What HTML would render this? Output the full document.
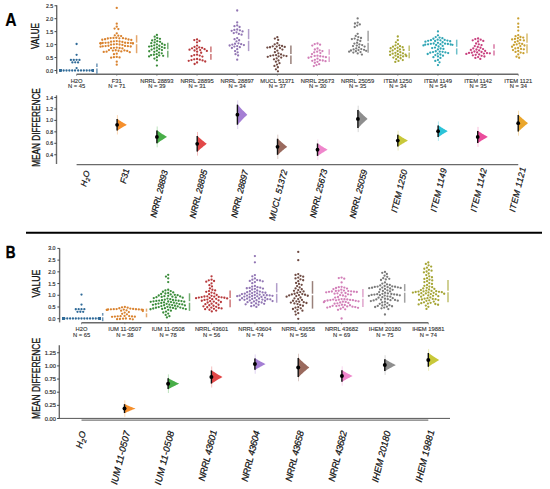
<!DOCTYPE html>
<html><head><meta charset="utf-8"><style>
html,body{margin:0;padding:0;background:#fff;}
body{width:550px;height:489px;overflow:hidden;}
svg{display:block;font-family:"Liberation Sans",sans-serif;}
</style></head><body>
<svg width="550" height="489" viewBox="0 0 550 489">
<rect width="550" height="489" fill="#fff"/>
<text x="11" y="26.2" font-size="17.5" text-anchor="middle" font-weight="bold" font-style="normal" fill="#000" textLength="11.3" lengthAdjust="spacingAndGlyphs" stroke="#000" stroke-width="0.2">A</text>
<text x="39.2" y="36" font-size="10" text-anchor="middle" font-weight="normal" font-style="normal" fill="#111" transform="rotate(-90 39.2 36)" textLength="26" lengthAdjust="spacingAndGlyphs" stroke="#111" stroke-width="0.3">VALUE</text>
<line x1="56.7" y1="5.3" x2="56.7" y2="73.8" stroke="#6a6a6a" stroke-width="1.4"/>
<line x1="54.5" y1="70.5" x2="56.7" y2="70.5" stroke="#444" stroke-width="1.0"/>
<text x="53.3" y="72.5" font-size="5.9" text-anchor="end" font-weight="normal" font-style="normal" fill="#333" textLength="7.3" lengthAdjust="spacingAndGlyphs" stroke="#333" stroke-width="0.2">0.0</text>
<line x1="54.5" y1="57.55" x2="56.7" y2="57.55" stroke="#444" stroke-width="1.0"/>
<text x="53.3" y="59.55" font-size="5.9" text-anchor="end" font-weight="normal" font-style="normal" fill="#333" textLength="7.3" lengthAdjust="spacingAndGlyphs" stroke="#333" stroke-width="0.2">0.5</text>
<line x1="54.5" y1="44.6" x2="56.7" y2="44.6" stroke="#444" stroke-width="1.0"/>
<text x="53.3" y="46.6" font-size="5.9" text-anchor="end" font-weight="normal" font-style="normal" fill="#333" textLength="7.3" lengthAdjust="spacingAndGlyphs" stroke="#333" stroke-width="0.2">1.0</text>
<line x1="54.5" y1="31.650000000000006" x2="56.7" y2="31.650000000000006" stroke="#444" stroke-width="1.0"/>
<text x="53.3" y="33.650000000000006" font-size="5.9" text-anchor="end" font-weight="normal" font-style="normal" fill="#333" textLength="7.3" lengthAdjust="spacingAndGlyphs" stroke="#333" stroke-width="0.2">1.5</text>
<line x1="54.5" y1="18.700000000000003" x2="56.7" y2="18.700000000000003" stroke="#444" stroke-width="1.0"/>
<text x="53.3" y="20.700000000000003" font-size="5.9" text-anchor="end" font-weight="normal" font-style="normal" fill="#333" textLength="7.3" lengthAdjust="spacingAndGlyphs" stroke="#333" stroke-width="0.2">2.0</text>
<line x1="54.5" y1="5.75" x2="56.7" y2="5.75" stroke="#444" stroke-width="1.0"/>
<text x="53.3" y="7.75" font-size="5.9" text-anchor="end" font-weight="normal" font-style="normal" fill="#333" textLength="7.3" lengthAdjust="spacingAndGlyphs" stroke="#333" stroke-width="0.2">2.5</text>
<line x1="76.6" y1="74.2" x2="518.25" y2="74.2" stroke="#6a6a6a" stroke-width="1.4"/>
<line x1="76.6" y1="74.2" x2="76.6" y2="75.8" stroke="#6a6a6a" stroke-width="0.7"/>
<line x1="116.75" y1="74.2" x2="116.75" y2="75.8" stroke="#6a6a6a" stroke-width="0.7"/>
<line x1="156.89999999999998" y1="74.2" x2="156.89999999999998" y2="75.8" stroke="#6a6a6a" stroke-width="0.7"/>
<line x1="197.04999999999998" y1="74.2" x2="197.04999999999998" y2="75.8" stroke="#6a6a6a" stroke-width="0.7"/>
<line x1="237.2" y1="74.2" x2="237.2" y2="75.8" stroke="#6a6a6a" stroke-width="0.7"/>
<line x1="277.35" y1="74.2" x2="277.35" y2="75.8" stroke="#6a6a6a" stroke-width="0.7"/>
<line x1="317.5" y1="74.2" x2="317.5" y2="75.8" stroke="#6a6a6a" stroke-width="0.7"/>
<line x1="357.65" y1="74.2" x2="357.65" y2="75.8" stroke="#6a6a6a" stroke-width="0.7"/>
<line x1="397.79999999999995" y1="74.2" x2="397.79999999999995" y2="75.8" stroke="#6a6a6a" stroke-width="0.7"/>
<line x1="437.94999999999993" y1="74.2" x2="437.94999999999993" y2="75.8" stroke="#6a6a6a" stroke-width="0.7"/>
<line x1="478.1" y1="74.2" x2="478.1" y2="75.8" stroke="#6a6a6a" stroke-width="0.7"/>
<line x1="518.25" y1="74.2" x2="518.25" y2="75.8" stroke="#6a6a6a" stroke-width="0.7"/>
<text x="76.6" y="82.5" font-size="5.8" text-anchor="middle" font-weight="normal" font-style="normal" fill="#333" stroke="#333" stroke-width="0.12">H2O</text>
<text x="76.6" y="88.0" font-size="5.8" text-anchor="middle" font-weight="normal" font-style="normal" fill="#333" stroke="#333" stroke-width="0.12">N = 45</text>
<text x="116.75" y="82.5" font-size="5.8" text-anchor="middle" font-weight="normal" font-style="normal" fill="#333" stroke="#333" stroke-width="0.12">F31</text>
<text x="116.75" y="88.0" font-size="5.8" text-anchor="middle" font-weight="normal" font-style="normal" fill="#333" stroke="#333" stroke-width="0.12">N = 71</text>
<text x="156.89999999999998" y="82.5" font-size="5.8" text-anchor="middle" font-weight="normal" font-style="normal" fill="#333" stroke="#333" stroke-width="0.12">NRRL 28893</text>
<text x="156.89999999999998" y="88.0" font-size="5.8" text-anchor="middle" font-weight="normal" font-style="normal" fill="#333" stroke="#333" stroke-width="0.12">N = 39</text>
<text x="197.04999999999998" y="82.5" font-size="5.8" text-anchor="middle" font-weight="normal" font-style="normal" fill="#333" stroke="#333" stroke-width="0.12">NRRL 28895</text>
<text x="197.04999999999998" y="88.0" font-size="5.8" text-anchor="middle" font-weight="normal" font-style="normal" fill="#333" stroke="#333" stroke-width="0.12">N = 31</text>
<text x="237.2" y="82.5" font-size="5.8" text-anchor="middle" font-weight="normal" font-style="normal" fill="#333" stroke="#333" stroke-width="0.12">NRRL 28897</text>
<text x="237.2" y="88.0" font-size="5.8" text-anchor="middle" font-weight="normal" font-style="normal" fill="#333" stroke="#333" stroke-width="0.12">N = 34</text>
<text x="277.35" y="82.5" font-size="5.8" text-anchor="middle" font-weight="normal" font-style="normal" fill="#333" stroke="#333" stroke-width="0.12">MUCL 51371</text>
<text x="277.35" y="88.0" font-size="5.8" text-anchor="middle" font-weight="normal" font-style="normal" fill="#333" stroke="#333" stroke-width="0.12">N = 37</text>
<text x="317.5" y="82.5" font-size="5.8" text-anchor="middle" font-weight="normal" font-style="normal" fill="#333" stroke="#333" stroke-width="0.12">NRRL 25673</text>
<text x="317.5" y="88.0" font-size="5.8" text-anchor="middle" font-weight="normal" font-style="normal" fill="#333" stroke="#333" stroke-width="0.12">N = 30</text>
<text x="357.65" y="82.5" font-size="5.8" text-anchor="middle" font-weight="normal" font-style="normal" fill="#333" stroke="#333" stroke-width="0.12">NRRL 25059</text>
<text x="357.65" y="88.0" font-size="5.8" text-anchor="middle" font-weight="normal" font-style="normal" fill="#333" stroke="#333" stroke-width="0.12">N = 35</text>
<text x="397.79999999999995" y="82.5" font-size="5.8" text-anchor="middle" font-weight="normal" font-style="normal" fill="#333" stroke="#333" stroke-width="0.12">ITEM 1250</text>
<text x="397.79999999999995" y="88.0" font-size="5.8" text-anchor="middle" font-weight="normal" font-style="normal" fill="#333" stroke="#333" stroke-width="0.12">N = 34</text>
<text x="437.94999999999993" y="82.5" font-size="5.8" text-anchor="middle" font-weight="normal" font-style="normal" fill="#333" stroke="#333" stroke-width="0.12">ITEM 1149</text>
<text x="437.94999999999993" y="88.0" font-size="5.8" text-anchor="middle" font-weight="normal" font-style="normal" fill="#333" stroke="#333" stroke-width="0.12">N = 54</text>
<text x="478.1" y="82.5" font-size="5.8" text-anchor="middle" font-weight="normal" font-style="normal" fill="#333" stroke="#333" stroke-width="0.12">ITEM 1142</text>
<text x="478.1" y="88.0" font-size="5.8" text-anchor="middle" font-weight="normal" font-style="normal" fill="#333" stroke="#333" stroke-width="0.12">N = 35</text>
<text x="518.25" y="82.5" font-size="5.8" text-anchor="middle" font-weight="normal" font-style="normal" fill="#333" stroke="#333" stroke-width="0.12">ITEM 1121</text>
<text x="518.25" y="88.0" font-size="5.8" text-anchor="middle" font-weight="normal" font-style="normal" fill="#333" stroke="#333" stroke-width="0.12">N = 34</text>
<circle cx="76.60" cy="44.00" r="1.15" fill="#2f6a98"/>
<circle cx="76.60" cy="54.80" r="1.15" fill="#2f6a98"/>
<circle cx="76.60" cy="59.86" r="1.15" fill="#2f6a98"/>
<circle cx="73.75" cy="59.89" r="1.15" fill="#2f6a98"/>
<circle cx="79.45" cy="59.91" r="1.15" fill="#2f6a98"/>
<circle cx="70.90" cy="59.94" r="1.15" fill="#2f6a98"/>
<circle cx="75.24" cy="62.37" r="1.15" fill="#2f6a98"/>
<circle cx="72.39" cy="62.40" r="1.15" fill="#2f6a98"/>
<circle cx="78.09" cy="62.43" r="1.15" fill="#2f6a98"/>
<circle cx="76.60" cy="68.10" r="1.15" fill="#2f6a98"/>
<circle cx="75.05" cy="70.49" r="1.15" fill="#2f6a98"/>
<circle cx="78.15" cy="70.49" r="1.15" fill="#2f6a98"/>
<circle cx="81.00" cy="70.49" r="1.15" fill="#2f6a98"/>
<circle cx="72.20" cy="70.49" r="1.15" fill="#2f6a98"/>
<circle cx="83.85" cy="70.49" r="1.15" fill="#2f6a98"/>
<circle cx="69.35" cy="70.49" r="1.15" fill="#2f6a98"/>
<circle cx="86.70" cy="70.49" r="1.15" fill="#2f6a98"/>
<circle cx="66.50" cy="70.49" r="1.15" fill="#2f6a98"/>
<circle cx="89.55" cy="70.49" r="1.15" fill="#2f6a98"/>
<circle cx="63.65" cy="70.50" r="1.15" fill="#2f6a98"/>
<circle cx="92.40" cy="70.50" r="1.15" fill="#2f6a98"/>
<circle cx="60.80" cy="70.50" r="1.15" fill="#2f6a98"/>
<circle cx="92.80" cy="70.50" r="1.15" fill="#2f6a98"/>
<circle cx="60.40" cy="70.50" r="1.15" fill="#2f6a98"/>
<circle cx="92.80" cy="70.50" r="1.15" fill="#2f6a98"/>
<circle cx="60.40" cy="70.50" r="1.15" fill="#2f6a98"/>
<circle cx="92.80" cy="70.50" r="1.15" fill="#2f6a98"/>
<circle cx="60.40" cy="70.50" r="1.15" fill="#2f6a98"/>
<circle cx="92.80" cy="70.50" r="1.15" fill="#2f6a98"/>
<circle cx="60.40" cy="70.50" r="1.15" fill="#2f6a98"/>
<circle cx="92.80" cy="70.50" r="1.15" fill="#2f6a98"/>
<circle cx="60.40" cy="70.50" r="1.15" fill="#2f6a98"/>
<circle cx="92.80" cy="70.50" r="1.15" fill="#2f6a98"/>
<circle cx="60.40" cy="70.50" r="1.15" fill="#2f6a98"/>
<circle cx="92.80" cy="70.50" r="1.15" fill="#2f6a98"/>
<circle cx="60.40" cy="70.50" r="1.15" fill="#2f6a98"/>
<circle cx="92.80" cy="70.51" r="1.15" fill="#2f6a98"/>
<circle cx="60.40" cy="70.51" r="1.15" fill="#2f6a98"/>
<circle cx="92.80" cy="70.51" r="1.15" fill="#2f6a98"/>
<circle cx="60.40" cy="70.51" r="1.15" fill="#2f6a98"/>
<circle cx="92.80" cy="70.51" r="1.15" fill="#2f6a98"/>
<circle cx="60.40" cy="70.51" r="1.15" fill="#2f6a98"/>
<circle cx="92.80" cy="70.51" r="1.15" fill="#2f6a98"/>
<circle cx="60.40" cy="70.51" r="1.15" fill="#2f6a98"/>
<circle cx="92.80" cy="70.51" r="1.15" fill="#2f6a98"/>
<line x1="96.9" y1="63.5" x2="96.9" y2="66.9" stroke="#2f6a98" stroke-width="1.5" stroke-opacity="0.7"/>
<line x1="96.9" y1="68.5" x2="96.9" y2="73.8" stroke="#2f6a98" stroke-width="1.5" stroke-opacity="0.7"/>
<circle cx="116.75" cy="7.90" r="1.15" fill="#d9822e"/>
<circle cx="116.75" cy="23.70" r="1.15" fill="#d9822e"/>
<circle cx="116.75" cy="26.70" r="1.15" fill="#d9822e"/>
<circle cx="114.58" cy="28.55" r="1.15" fill="#d9822e"/>
<circle cx="118.36" cy="29.05" r="1.15" fill="#d9822e"/>
<circle cx="116.75" cy="33.30" r="1.15" fill="#d9822e"/>
<circle cx="114.79" cy="35.37" r="1.15" fill="#d9822e"/>
<circle cx="118.29" cy="35.70" r="1.15" fill="#d9822e"/>
<circle cx="121.12" cy="36.03" r="1.15" fill="#d9822e"/>
<circle cx="116.33" cy="37.77" r="1.15" fill="#d9822e"/>
<circle cx="113.48" cy="37.91" r="1.15" fill="#d9822e"/>
<circle cx="110.64" cy="38.06" r="1.15" fill="#d9822e"/>
<circle cx="122.97" cy="38.20" r="1.15" fill="#d9822e"/>
<circle cx="119.35" cy="38.34" r="1.15" fill="#d9822e"/>
<circle cx="107.82" cy="38.49" r="1.15" fill="#d9822e"/>
<circle cx="125.79" cy="38.63" r="1.15" fill="#d9822e"/>
<circle cx="105.07" cy="39.23" r="1.15" fill="#d9822e"/>
<circle cx="128.51" cy="39.48" r="1.15" fill="#d9822e"/>
<circle cx="102.26" cy="39.73" r="1.15" fill="#d9822e"/>
<circle cx="131.31" cy="39.98" r="1.15" fill="#d9822e"/>
<circle cx="116.75" cy="41.10" r="1.15" fill="#d9822e"/>
<circle cx="113.91" cy="41.30" r="1.15" fill="#d9822e"/>
<circle cx="119.57" cy="41.50" r="1.15" fill="#d9822e"/>
<circle cx="111.09" cy="41.70" r="1.15" fill="#d9822e"/>
<circle cx="122.39" cy="41.90" r="1.15" fill="#d9822e"/>
<circle cx="108.40" cy="42.65" r="1.15" fill="#d9822e"/>
<circle cx="125.12" cy="42.74" r="1.15" fill="#d9822e"/>
<circle cx="105.55" cy="42.83" r="1.15" fill="#d9822e"/>
<circle cx="127.96" cy="42.92" r="1.15" fill="#d9822e"/>
<circle cx="102.71" cy="43.01" r="1.15" fill="#d9822e"/>
<circle cx="130.81" cy="43.10" r="1.15" fill="#d9822e"/>
<circle cx="100.55" cy="43.19" r="1.15" fill="#d9822e"/>
<circle cx="132.95" cy="43.28" r="1.15" fill="#d9822e"/>
<circle cx="100.55" cy="43.37" r="1.15" fill="#d9822e"/>
<circle cx="132.95" cy="43.46" r="1.15" fill="#d9822e"/>
<circle cx="100.55" cy="43.55" r="1.15" fill="#d9822e"/>
<circle cx="116.75" cy="44.10" r="1.15" fill="#d9822e"/>
<circle cx="113.91" cy="44.30" r="1.15" fill="#d9822e"/>
<circle cx="119.57" cy="44.50" r="1.15" fill="#d9822e"/>
<circle cx="111.09" cy="44.70" r="1.15" fill="#d9822e"/>
<circle cx="122.39" cy="44.90" r="1.15" fill="#d9822e"/>
<circle cx="108.44" cy="45.77" r="1.15" fill="#d9822e"/>
<circle cx="125.06" cy="45.91" r="1.15" fill="#d9822e"/>
<circle cx="105.61" cy="46.06" r="1.15" fill="#d9822e"/>
<circle cx="127.89" cy="46.20" r="1.15" fill="#d9822e"/>
<circle cx="102.77" cy="46.34" r="1.15" fill="#d9822e"/>
<circle cx="130.73" cy="46.49" r="1.15" fill="#d9822e"/>
<circle cx="100.55" cy="46.63" r="1.15" fill="#d9822e"/>
<circle cx="116.75" cy="47.60" r="1.15" fill="#d9822e"/>
<circle cx="113.91" cy="47.80" r="1.15" fill="#d9822e"/>
<circle cx="119.57" cy="48.00" r="1.15" fill="#d9822e"/>
<circle cx="111.09" cy="48.20" r="1.15" fill="#d9822e"/>
<circle cx="122.39" cy="48.40" r="1.15" fill="#d9822e"/>
<circle cx="108.95" cy="50.08" r="1.15" fill="#d9822e"/>
<circle cx="115.70" cy="50.25" r="1.15" fill="#d9822e"/>
<circle cx="124.41" cy="50.42" r="1.15" fill="#d9822e"/>
<circle cx="112.87" cy="50.58" r="1.15" fill="#d9822e"/>
<circle cx="118.51" cy="50.75" r="1.15" fill="#d9822e"/>
<circle cx="127.21" cy="50.92" r="1.15" fill="#d9822e"/>
<circle cx="121.28" cy="51.42" r="1.15" fill="#d9822e"/>
<circle cx="106.58" cy="51.67" r="1.15" fill="#d9822e"/>
<circle cx="103.74" cy="51.92" r="1.15" fill="#d9822e"/>
<circle cx="129.77" cy="52.17" r="1.15" fill="#d9822e"/>
<circle cx="116.75" cy="53.65" r="1.15" fill="#d9822e"/>
<circle cx="113.94" cy="54.15" r="1.15" fill="#d9822e"/>
<circle cx="116.75" cy="56.92" r="1.15" fill="#d9822e"/>
<circle cx="113.91" cy="57.17" r="1.15" fill="#d9822e"/>
<circle cx="119.56" cy="57.42" r="1.15" fill="#d9822e"/>
<circle cx="111.11" cy="57.67" r="1.15" fill="#d9822e"/>
<circle cx="116.75" cy="61.70" r="1.15" fill="#d9822e"/>
<circle cx="116.75" cy="64.70" r="1.15" fill="#d9822e"/>
<line x1="136.6" y1="35.2" x2="136.6" y2="42.6" stroke="#d9822e" stroke-width="1.5" stroke-opacity="0.7"/>
<line x1="136.6" y1="44.199999999999996" x2="136.6" y2="53.2" stroke="#d9822e" stroke-width="1.5" stroke-opacity="0.7"/>
<circle cx="156.90" cy="34.90" r="1.15" fill="#3a8c3a"/>
<circle cx="154.69" cy="36.70" r="1.15" fill="#3a8c3a"/>
<circle cx="157.23" cy="38.00" r="1.15" fill="#3a8c3a"/>
<circle cx="159.96" cy="38.80" r="1.15" fill="#3a8c3a"/>
<circle cx="154.88" cy="39.61" r="1.15" fill="#3a8c3a"/>
<circle cx="152.15" cy="40.44" r="1.15" fill="#3a8c3a"/>
<circle cx="157.27" cy="41.16" r="1.15" fill="#3a8c3a"/>
<circle cx="160.05" cy="41.79" r="1.15" fill="#3a8c3a"/>
<circle cx="154.61" cy="42.45" r="1.15" fill="#3a8c3a"/>
<circle cx="151.27" cy="43.15" r="1.15" fill="#3a8c3a"/>
<circle cx="162.09" cy="43.77" r="1.15" fill="#3a8c3a"/>
<circle cx="156.90" cy="44.33" r="1.15" fill="#3a8c3a"/>
<circle cx="164.70" cy="44.88" r="1.15" fill="#3a8c3a"/>
<circle cx="154.24" cy="45.36" r="1.15" fill="#3a8c3a"/>
<circle cx="159.36" cy="45.77" r="1.15" fill="#3a8c3a"/>
<circle cx="151.52" cy="46.18" r="1.15" fill="#3a8c3a"/>
<circle cx="149.10" cy="46.59" r="1.15" fill="#3a8c3a"/>
<circle cx="161.91" cy="47.03" r="1.15" fill="#3a8c3a"/>
<circle cx="156.90" cy="47.50" r="1.15" fill="#3a8c3a"/>
<circle cx="164.60" cy="47.97" r="1.15" fill="#3a8c3a"/>
<circle cx="154.22" cy="48.48" r="1.15" fill="#3a8c3a"/>
<circle cx="159.31" cy="49.02" r="1.15" fill="#3a8c3a"/>
<circle cx="151.59" cy="49.57" r="1.15" fill="#3a8c3a"/>
<circle cx="161.94" cy="50.12" r="1.15" fill="#3a8c3a"/>
<circle cx="156.90" cy="50.67" r="1.15" fill="#3a8c3a"/>
<circle cx="149.27" cy="51.23" r="1.15" fill="#3a8c3a"/>
<circle cx="154.30" cy="51.85" r="1.15" fill="#3a8c3a"/>
<circle cx="159.05" cy="52.55" r="1.15" fill="#3a8c3a"/>
<circle cx="161.79" cy="53.31" r="1.15" fill="#3a8c3a"/>
<circle cx="156.68" cy="54.14" r="1.15" fill="#3a8c3a"/>
<circle cx="153.89" cy="54.73" r="1.15" fill="#3a8c3a"/>
<circle cx="151.07" cy="55.09" r="1.15" fill="#3a8c3a"/>
<circle cx="159.21" cy="55.46" r="1.15" fill="#3a8c3a"/>
<circle cx="163.15" cy="55.82" r="1.15" fill="#3a8c3a"/>
<circle cx="149.10" cy="56.40" r="1.15" fill="#3a8c3a"/>
<circle cx="156.90" cy="57.20" r="1.15" fill="#3a8c3a"/>
<circle cx="154.42" cy="58.60" r="1.15" fill="#3a8c3a"/>
<circle cx="156.90" cy="60.30" r="1.15" fill="#3a8c3a"/>
<circle cx="156.90" cy="65.60" r="1.15" fill="#3a8c3a"/>
<line x1="167.8" y1="42.7" x2="167.8" y2="49.2" stroke="#3a8c3a" stroke-width="1.5" stroke-opacity="0.7"/>
<line x1="167.8" y1="50.8" x2="167.8" y2="57.4" stroke="#3a8c3a" stroke-width="1.5" stroke-opacity="0.7"/>
<circle cx="197.05" cy="39.38" r="1.15" fill="#b83a3c"/>
<circle cx="194.30" cy="40.12" r="1.15" fill="#b83a3c"/>
<circle cx="199.47" cy="40.88" r="1.15" fill="#b83a3c"/>
<circle cx="197.01" cy="42.30" r="1.15" fill="#b83a3c"/>
<circle cx="197.05" cy="45.60" r="1.15" fill="#b83a3c"/>
<circle cx="194.53" cy="46.93" r="1.15" fill="#b83a3c"/>
<circle cx="199.27" cy="47.39" r="1.15" fill="#b83a3c"/>
<circle cx="202.08" cy="47.85" r="1.15" fill="#b83a3c"/>
<circle cx="192.04" cy="48.31" r="1.15" fill="#b83a3c"/>
<circle cx="196.77" cy="48.77" r="1.15" fill="#b83a3c"/>
<circle cx="204.58" cy="49.22" r="1.15" fill="#b83a3c"/>
<circle cx="189.52" cy="49.65" r="1.15" fill="#b83a3c"/>
<circle cx="200.22" cy="50.08" r="1.15" fill="#b83a3c"/>
<circle cx="194.51" cy="50.51" r="1.15" fill="#b83a3c"/>
<circle cx="206.85" cy="50.94" r="1.15" fill="#b83a3c"/>
<circle cx="197.11" cy="51.69" r="1.15" fill="#b83a3c"/>
<circle cx="201.17" cy="52.76" r="1.15" fill="#b83a3c"/>
<circle cx="197.05" cy="54.64" r="1.15" fill="#b83a3c"/>
<circle cx="194.24" cy="55.12" r="1.15" fill="#b83a3c"/>
<circle cx="199.73" cy="55.60" r="1.15" fill="#b83a3c"/>
<circle cx="191.56" cy="56.08" r="1.15" fill="#b83a3c"/>
<circle cx="202.42" cy="56.56" r="1.15" fill="#b83a3c"/>
<circle cx="197.05" cy="58.98" r="1.15" fill="#b83a3c"/>
<circle cx="194.22" cy="59.35" r="1.15" fill="#b83a3c"/>
<circle cx="199.80" cy="59.72" r="1.15" fill="#b83a3c"/>
<circle cx="191.47" cy="60.08" r="1.15" fill="#b83a3c"/>
<circle cx="202.56" cy="60.45" r="1.15" fill="#b83a3c"/>
<circle cx="188.72" cy="60.82" r="1.15" fill="#b83a3c"/>
<circle cx="205.21" cy="61.50" r="1.15" fill="#b83a3c"/>
<circle cx="197.05" cy="62.50" r="1.15" fill="#b83a3c"/>
<circle cx="194.63" cy="64.00" r="1.15" fill="#b83a3c"/>
<line x1="210.9" y1="46.6" x2="210.9" y2="52.300000000000004" stroke="#b83a3c" stroke-width="1.5" stroke-opacity="0.7"/>
<line x1="210.9" y1="53.9" x2="210.9" y2="59.7" stroke="#b83a3c" stroke-width="1.5" stroke-opacity="0.7"/>
<circle cx="237.20" cy="10.50" r="1.15" fill="#9175b3"/>
<circle cx="237.20" cy="22.40" r="1.15" fill="#9175b3"/>
<circle cx="237.20" cy="25.40" r="1.15" fill="#9175b3"/>
<circle cx="234.46" cy="26.20" r="1.15" fill="#9175b3"/>
<circle cx="239.56" cy="27.00" r="1.15" fill="#9175b3"/>
<circle cx="237.20" cy="29.51" r="1.15" fill="#9175b3"/>
<circle cx="234.38" cy="29.94" r="1.15" fill="#9175b3"/>
<circle cx="239.92" cy="30.36" r="1.15" fill="#9175b3"/>
<circle cx="231.66" cy="30.79" r="1.15" fill="#9175b3"/>
<circle cx="242.56" cy="31.43" r="1.15" fill="#9175b3"/>
<circle cx="236.50" cy="32.28" r="1.15" fill="#9175b3"/>
<circle cx="233.77" cy="33.10" r="1.15" fill="#9175b3"/>
<circle cx="238.84" cy="33.90" r="1.15" fill="#9175b3"/>
<circle cx="241.58" cy="34.70" r="1.15" fill="#9175b3"/>
<circle cx="237.20" cy="38.12" r="1.15" fill="#9175b3"/>
<circle cx="234.55" cy="39.17" r="1.15" fill="#9175b3"/>
<circle cx="239.13" cy="40.23" r="1.15" fill="#9175b3"/>
<circle cx="236.48" cy="41.28" r="1.15" fill="#9175b3"/>
<circle cx="238.47" cy="43.31" r="1.15" fill="#9175b3"/>
<circle cx="235.06" cy="43.74" r="1.15" fill="#9175b3"/>
<circle cx="241.18" cy="44.17" r="1.15" fill="#9175b3"/>
<circle cx="232.34" cy="44.60" r="1.15" fill="#9175b3"/>
<circle cx="243.90" cy="45.03" r="1.15" fill="#9175b3"/>
<circle cx="229.64" cy="45.52" r="1.15" fill="#9175b3"/>
<circle cx="237.20" cy="46.06" r="1.15" fill="#9175b3"/>
<circle cx="234.40" cy="46.59" r="1.15" fill="#9175b3"/>
<circle cx="239.84" cy="47.13" r="1.15" fill="#9175b3"/>
<circle cx="231.92" cy="48.00" r="1.15" fill="#9175b3"/>
<circle cx="237.20" cy="49.20" r="1.15" fill="#9175b3"/>
<circle cx="235.08" cy="51.10" r="1.15" fill="#9175b3"/>
<circle cx="237.66" cy="52.30" r="1.15" fill="#9175b3"/>
<circle cx="235.54" cy="54.20" r="1.15" fill="#9175b3"/>
<circle cx="238.12" cy="55.40" r="1.15" fill="#9175b3"/>
<circle cx="237.20" cy="59.70" r="1.15" fill="#9175b3"/>
<line x1="248.6" y1="29" x2="248.6" y2="39.2" stroke="#9175b3" stroke-width="1.5" stroke-opacity="0.7"/>
<line x1="248.6" y1="40.8" x2="248.6" y2="51.1" stroke="#9175b3" stroke-width="1.5" stroke-opacity="0.7"/>
<circle cx="277.35" cy="37.20" r="1.15" fill="#6e4a42"/>
<circle cx="274.85" cy="38.58" r="1.15" fill="#6e4a42"/>
<circle cx="278.18" cy="39.93" r="1.15" fill="#6e4a42"/>
<circle cx="277.35" cy="43.23" r="1.15" fill="#6e4a42"/>
<circle cx="274.70" cy="44.28" r="1.15" fill="#6e4a42"/>
<circle cx="279.28" cy="45.33" r="1.15" fill="#6e4a42"/>
<circle cx="282.04" cy="46.00" r="1.15" fill="#6e4a42"/>
<circle cx="272.71" cy="46.31" r="1.15" fill="#6e4a42"/>
<circle cx="276.74" cy="46.62" r="1.15" fill="#6e4a42"/>
<circle cx="284.74" cy="46.93" r="1.15" fill="#6e4a42"/>
<circle cx="270.01" cy="47.24" r="1.15" fill="#6e4a42"/>
<circle cx="267.35" cy="47.55" r="1.15" fill="#6e4a42"/>
<circle cx="279.99" cy="48.08" r="1.15" fill="#6e4a42"/>
<circle cx="274.96" cy="48.85" r="1.15" fill="#6e4a42"/>
<circle cx="282.40" cy="49.62" r="1.15" fill="#6e4a42"/>
<circle cx="277.35" cy="50.71" r="1.15" fill="#6e4a42"/>
<circle cx="274.88" cy="52.14" r="1.15" fill="#6e4a42"/>
<circle cx="278.40" cy="53.36" r="1.15" fill="#6e4a42"/>
<circle cx="281.06" cy="54.39" r="1.15" fill="#6e4a42"/>
<circle cx="276.08" cy="55.03" r="1.15" fill="#6e4a42"/>
<circle cx="273.24" cy="55.28" r="1.15" fill="#6e4a42"/>
<circle cx="283.67" cy="55.53" r="1.15" fill="#6e4a42"/>
<circle cx="270.44" cy="55.78" r="1.15" fill="#6e4a42"/>
<circle cx="286.48" cy="56.03" r="1.15" fill="#6e4a42"/>
<circle cx="278.65" cy="56.28" r="1.15" fill="#6e4a42"/>
<circle cx="267.77" cy="56.78" r="1.15" fill="#6e4a42"/>
<circle cx="281.19" cy="57.55" r="1.15" fill="#6e4a42"/>
<circle cx="276.66" cy="58.32" r="1.15" fill="#6e4a42"/>
<circle cx="273.98" cy="59.30" r="1.15" fill="#6e4a42"/>
<circle cx="278.49" cy="60.50" r="1.15" fill="#6e4a42"/>
<circle cx="275.90" cy="61.70" r="1.15" fill="#6e4a42"/>
<circle cx="279.47" cy="63.17" r="1.15" fill="#6e4a42"/>
<circle cx="276.96" cy="64.53" r="1.15" fill="#6e4a42"/>
<circle cx="274.45" cy="65.88" r="1.15" fill="#6e4a42"/>
<circle cx="277.87" cy="67.23" r="1.15" fill="#6e4a42"/>
<circle cx="275.92" cy="69.30" r="1.15" fill="#6e4a42"/>
<circle cx="277.95" cy="71.30" r="1.15" fill="#6e4a42"/>
<line x1="290.9" y1="45.6" x2="290.9" y2="54.0" stroke="#6e4a42" stroke-width="1.5" stroke-opacity="0.7"/>
<line x1="290.9" y1="55.599999999999994" x2="290.9" y2="64" stroke="#6e4a42" stroke-width="1.5" stroke-opacity="0.7"/>
<circle cx="317.50" cy="43.50" r="1.15" fill="#d27fb8"/>
<circle cx="314.71" cy="44.10" r="1.15" fill="#d27fb8"/>
<circle cx="320.09" cy="44.70" r="1.15" fill="#d27fb8"/>
<circle cx="312.29" cy="45.60" r="1.15" fill="#d27fb8"/>
<circle cx="317.50" cy="48.50" r="1.15" fill="#d27fb8"/>
<circle cx="314.84" cy="49.51" r="1.15" fill="#d27fb8"/>
<circle cx="319.68" cy="50.34" r="1.15" fill="#d27fb8"/>
<circle cx="322.44" cy="51.06" r="1.15" fill="#d27fb8"/>
<circle cx="317.16" cy="51.67" r="1.15" fill="#d27fb8"/>
<circle cx="314.20" cy="52.29" r="1.15" fill="#d27fb8"/>
<circle cx="320.38" cy="53.10" r="1.15" fill="#d27fb8"/>
<circle cx="312.00" cy="54.10" r="1.15" fill="#d27fb8"/>
<circle cx="317.50" cy="55.65" r="1.15" fill="#d27fb8"/>
<circle cx="314.67" cy="55.95" r="1.15" fill="#d27fb8"/>
<circle cx="320.29" cy="56.25" r="1.15" fill="#d27fb8"/>
<circle cx="323.12" cy="56.55" r="1.15" fill="#d27fb8"/>
<circle cx="311.25" cy="56.85" r="1.15" fill="#d27fb8"/>
<circle cx="325.91" cy="57.15" r="1.15" fill="#d27fb8"/>
<circle cx="308.55" cy="57.75" r="1.15" fill="#d27fb8"/>
<circle cx="317.50" cy="58.65" r="1.15" fill="#d27fb8"/>
<circle cx="314.88" cy="59.78" r="1.15" fill="#d27fb8"/>
<circle cx="319.93" cy="60.14" r="1.15" fill="#d27fb8"/>
<circle cx="322.76" cy="60.50" r="1.15" fill="#d27fb8"/>
<circle cx="312.25" cy="60.86" r="1.15" fill="#d27fb8"/>
<circle cx="325.51" cy="61.22" r="1.15" fill="#d27fb8"/>
<circle cx="317.50" cy="61.85" r="1.15" fill="#d27fb8"/>
<circle cx="314.80" cy="62.75" r="1.15" fill="#d27fb8"/>
<circle cx="319.18" cy="64.15" r="1.15" fill="#d27fb8"/>
<circle cx="316.48" cy="65.05" r="1.15" fill="#d27fb8"/>
<circle cx="313.83" cy="66.10" r="1.15" fill="#d27fb8"/>
<line x1="329.2" y1="49.3" x2="329.2" y2="54.800000000000004" stroke="#d27fb8" stroke-width="1.5" stroke-opacity="0.7"/>
<line x1="329.2" y1="56.4" x2="329.2" y2="62" stroke="#d27fb8" stroke-width="1.5" stroke-opacity="0.7"/>
<circle cx="357.65" cy="18.40" r="1.15" fill="#7a7a7a"/>
<circle cx="357.65" cy="22.57" r="1.15" fill="#7a7a7a"/>
<circle cx="354.96" cy="23.50" r="1.15" fill="#7a7a7a"/>
<circle cx="359.80" cy="24.43" r="1.15" fill="#7a7a7a"/>
<circle cx="357.20" cy="25.60" r="1.15" fill="#7a7a7a"/>
<circle cx="354.72" cy="27.00" r="1.15" fill="#7a7a7a"/>
<circle cx="357.65" cy="33.80" r="1.15" fill="#7a7a7a"/>
<circle cx="355.72" cy="35.90" r="1.15" fill="#7a7a7a"/>
<circle cx="358.31" cy="37.10" r="1.15" fill="#7a7a7a"/>
<circle cx="361.02" cy="37.98" r="1.15" fill="#7a7a7a"/>
<circle cx="354.67" cy="38.55" r="1.15" fill="#7a7a7a"/>
<circle cx="351.88" cy="39.12" r="1.15" fill="#7a7a7a"/>
<circle cx="357.65" cy="39.93" r="1.15" fill="#7a7a7a"/>
<circle cx="360.30" cy="40.98" r="1.15" fill="#7a7a7a"/>
<circle cx="357.12" cy="42.73" r="1.15" fill="#7a7a7a"/>
<circle cx="354.40" cy="43.58" r="1.15" fill="#7a7a7a"/>
<circle cx="359.41" cy="44.43" r="1.15" fill="#7a7a7a"/>
<circle cx="362.18" cy="45.09" r="1.15" fill="#7a7a7a"/>
<circle cx="356.80" cy="45.58" r="1.15" fill="#7a7a7a"/>
<circle cx="353.02" cy="46.07" r="1.15" fill="#7a7a7a"/>
<circle cx="364.62" cy="46.56" r="1.15" fill="#7a7a7a"/>
<circle cx="359.06" cy="47.33" r="1.15" fill="#7a7a7a"/>
<circle cx="356.24" cy="48.38" r="1.15" fill="#7a7a7a"/>
<circle cx="361.30" cy="49.08" r="1.15" fill="#7a7a7a"/>
<circle cx="353.59" cy="49.43" r="1.15" fill="#7a7a7a"/>
<circle cx="364.07" cy="49.78" r="1.15" fill="#7a7a7a"/>
<circle cx="358.49" cy="50.12" r="1.15" fill="#7a7a7a"/>
<circle cx="350.94" cy="50.48" r="1.15" fill="#7a7a7a"/>
<circle cx="366.15" cy="50.83" r="1.15" fill="#7a7a7a"/>
<circle cx="355.86" cy="51.23" r="1.15" fill="#7a7a7a"/>
<circle cx="349.15" cy="51.67" r="1.15" fill="#7a7a7a"/>
<circle cx="360.52" cy="52.12" r="1.15" fill="#7a7a7a"/>
<circle cx="353.35" cy="52.57" r="1.15" fill="#7a7a7a"/>
<circle cx="357.70" cy="53.40" r="1.15" fill="#7a7a7a"/>
<circle cx="361.93" cy="54.60" r="1.15" fill="#7a7a7a"/>
<line x1="368.1" y1="30.8" x2="368.1" y2="41.2" stroke="#7a7a7a" stroke-width="1.5" stroke-opacity="0.7"/>
<line x1="368.1" y1="42.8" x2="368.1" y2="52.7" stroke="#7a7a7a" stroke-width="1.5" stroke-opacity="0.7"/>
<circle cx="397.80" cy="36.50" r="1.15" fill="#a5a535"/>
<circle cx="397.80" cy="40.20" r="1.15" fill="#a5a535"/>
<circle cx="395.87" cy="42.30" r="1.15" fill="#a5a535"/>
<circle cx="398.07" cy="44.11" r="1.15" fill="#a5a535"/>
<circle cx="395.50" cy="45.34" r="1.15" fill="#a5a535"/>
<circle cx="400.01" cy="46.21" r="1.15" fill="#a5a535"/>
<circle cx="393.01" cy="46.72" r="1.15" fill="#a5a535"/>
<circle cx="402.67" cy="47.23" r="1.15" fill="#a5a535"/>
<circle cx="397.61" cy="47.74" r="1.15" fill="#a5a535"/>
<circle cx="390.62" cy="48.27" r="1.15" fill="#a5a535"/>
<circle cx="394.97" cy="48.83" r="1.15" fill="#a5a535"/>
<circle cx="399.94" cy="49.38" r="1.15" fill="#a5a535"/>
<circle cx="403.60" cy="49.92" r="1.15" fill="#a5a535"/>
<circle cx="392.65" cy="50.47" r="1.15" fill="#a5a535"/>
<circle cx="397.62" cy="51.02" r="1.15" fill="#a5a535"/>
<circle cx="390.03" cy="51.60" r="1.15" fill="#a5a535"/>
<circle cx="400.32" cy="52.20" r="1.15" fill="#a5a535"/>
<circle cx="395.39" cy="52.80" r="1.15" fill="#a5a535"/>
<circle cx="402.95" cy="53.31" r="1.15" fill="#a5a535"/>
<circle cx="392.69" cy="53.72" r="1.15" fill="#a5a535"/>
<circle cx="397.91" cy="54.13" r="1.15" fill="#a5a535"/>
<circle cx="405.51" cy="54.54" r="1.15" fill="#a5a535"/>
<circle cx="390.11" cy="54.93" r="1.15" fill="#a5a535"/>
<circle cx="400.51" cy="55.29" r="1.15" fill="#a5a535"/>
<circle cx="395.50" cy="55.66" r="1.15" fill="#a5a535"/>
<circle cx="406.30" cy="56.02" r="1.15" fill="#a5a535"/>
<circle cx="403.11" cy="56.47" r="1.15" fill="#a5a535"/>
<circle cx="398.02" cy="57.00" r="1.15" fill="#a5a535"/>
<circle cx="393.36" cy="57.53" r="1.15" fill="#a5a535"/>
<circle cx="400.57" cy="58.26" r="1.15" fill="#a5a535"/>
<circle cx="396.19" cy="59.19" r="1.15" fill="#a5a535"/>
<circle cx="402.78" cy="60.06" r="1.15" fill="#a5a535"/>
<circle cx="398.48" cy="60.89" r="1.15" fill="#a5a535"/>
<circle cx="395.31" cy="61.90" r="1.15" fill="#a5a535"/>
<line x1="409.2" y1="45.5" x2="409.2" y2="50.900000000000006" stroke="#a5a535" stroke-width="1.5" stroke-opacity="0.7"/>
<line x1="409.2" y1="52.5" x2="409.2" y2="58.2" stroke="#a5a535" stroke-width="1.5" stroke-opacity="0.7"/>
<circle cx="437.95" cy="31.40" r="1.15" fill="#2fa5b4"/>
<circle cx="437.95" cy="35.30" r="1.15" fill="#2fa5b4"/>
<circle cx="435.72" cy="37.07" r="1.15" fill="#2fa5b4"/>
<circle cx="439.60" cy="37.62" r="1.15" fill="#2fa5b4"/>
<circle cx="442.39" cy="38.17" r="1.15" fill="#2fa5b4"/>
<circle cx="433.40" cy="38.73" r="1.15" fill="#2fa5b4"/>
<circle cx="437.65" cy="39.71" r="1.15" fill="#2fa5b4"/>
<circle cx="444.64" cy="39.93" r="1.15" fill="#2fa5b4"/>
<circle cx="430.93" cy="40.15" r="1.15" fill="#2fa5b4"/>
<circle cx="440.43" cy="40.37" r="1.15" fill="#2fa5b4"/>
<circle cx="447.42" cy="40.58" r="1.15" fill="#2fa5b4"/>
<circle cx="428.15" cy="40.80" r="1.15" fill="#2fa5b4"/>
<circle cx="435.12" cy="41.02" r="1.15" fill="#2fa5b4"/>
<circle cx="450.19" cy="41.24" r="1.15" fill="#2fa5b4"/>
<circle cx="425.43" cy="41.64" r="1.15" fill="#2fa5b4"/>
<circle cx="442.59" cy="42.23" r="1.15" fill="#2fa5b4"/>
<circle cx="437.95" cy="42.81" r="1.15" fill="#2fa5b4"/>
<circle cx="433.69" cy="43.48" r="1.15" fill="#2fa5b4"/>
<circle cx="445.05" cy="43.66" r="1.15" fill="#2fa5b4"/>
<circle cx="430.86" cy="43.83" r="1.15" fill="#2fa5b4"/>
<circle cx="447.88" cy="43.99" r="1.15" fill="#2fa5b4"/>
<circle cx="440.46" cy="44.16" r="1.15" fill="#2fa5b4"/>
<circle cx="428.06" cy="44.34" r="1.15" fill="#2fa5b4"/>
<circle cx="450.69" cy="44.51" r="1.15" fill="#2fa5b4"/>
<circle cx="425.23" cy="44.67" r="1.15" fill="#2fa5b4"/>
<circle cx="452.45" cy="44.84" r="1.15" fill="#2fa5b4"/>
<circle cx="436.15" cy="45.02" r="1.15" fill="#2fa5b4"/>
<circle cx="423.45" cy="45.38" r="1.15" fill="#2fa5b4"/>
<circle cx="442.68" cy="45.95" r="1.15" fill="#2fa5b4"/>
<circle cx="438.57" cy="46.52" r="1.15" fill="#2fa5b4"/>
<circle cx="434.99" cy="47.62" r="1.15" fill="#2fa5b4"/>
<circle cx="432.17" cy="48.06" r="1.15" fill="#2fa5b4"/>
<circle cx="440.62" cy="48.50" r="1.15" fill="#2fa5b4"/>
<circle cx="443.43" cy="48.94" r="1.15" fill="#2fa5b4"/>
<circle cx="437.90" cy="49.38" r="1.15" fill="#2fa5b4"/>
<circle cx="435.75" cy="51.25" r="1.15" fill="#2fa5b4"/>
<circle cx="439.77" cy="51.54" r="1.15" fill="#2fa5b4"/>
<circle cx="442.60" cy="51.83" r="1.15" fill="#2fa5b4"/>
<circle cx="433.04" cy="52.12" r="1.15" fill="#2fa5b4"/>
<circle cx="445.39" cy="52.41" r="1.15" fill="#2fa5b4"/>
<circle cx="430.25" cy="52.70" r="1.15" fill="#2fa5b4"/>
<circle cx="448.16" cy="53.08" r="1.15" fill="#2fa5b4"/>
<circle cx="437.72" cy="53.53" r="1.15" fill="#2fa5b4"/>
<circle cx="427.70" cy="53.98" r="1.15" fill="#2fa5b4"/>
<circle cx="440.40" cy="54.50" r="1.15" fill="#2fa5b4"/>
<circle cx="435.35" cy="55.10" r="1.15" fill="#2fa5b4"/>
<circle cx="442.99" cy="55.70" r="1.15" fill="#2fa5b4"/>
<circle cx="437.95" cy="56.47" r="1.15" fill="#2fa5b4"/>
<circle cx="433.42" cy="57.20" r="1.15" fill="#2fa5b4"/>
<circle cx="440.39" cy="57.93" r="1.15" fill="#2fa5b4"/>
<circle cx="437.95" cy="59.90" r="1.15" fill="#2fa5b4"/>
<circle cx="435.28" cy="60.90" r="1.15" fill="#2fa5b4"/>
<circle cx="439.49" cy="62.30" r="1.15" fill="#2fa5b4"/>
<circle cx="437.95" cy="65.10" r="1.15" fill="#2fa5b4"/>
<line x1="456.7" y1="39.7" x2="456.7" y2="46.800000000000004" stroke="#2fa5b4" stroke-width="1.5" stroke-opacity="0.7"/>
<line x1="456.7" y1="48.4" x2="456.7" y2="54.5" stroke="#2fa5b4" stroke-width="1.5" stroke-opacity="0.7"/>
<circle cx="478.10" cy="38.50" r="1.15" fill="#c8407e"/>
<circle cx="475.31" cy="39.10" r="1.15" fill="#c8407e"/>
<circle cx="480.69" cy="39.70" r="1.15" fill="#c8407e"/>
<circle cx="472.73" cy="40.30" r="1.15" fill="#c8407e"/>
<circle cx="483.27" cy="40.90" r="1.15" fill="#c8407e"/>
<circle cx="478.10" cy="41.50" r="1.15" fill="#c8407e"/>
<circle cx="476.07" cy="43.50" r="1.15" fill="#c8407e"/>
<circle cx="478.81" cy="44.30" r="1.15" fill="#c8407e"/>
<circle cx="481.54" cy="45.10" r="1.15" fill="#c8407e"/>
<circle cx="474.80" cy="46.05" r="1.15" fill="#c8407e"/>
<circle cx="477.76" cy="46.95" r="1.15" fill="#c8407e"/>
<circle cx="480.49" cy="47.75" r="1.15" fill="#c8407e"/>
<circle cx="473.26" cy="48.45" r="1.15" fill="#c8407e"/>
<circle cx="483.04" cy="49.03" r="1.15" fill="#c8407e"/>
<circle cx="476.47" cy="49.49" r="1.15" fill="#c8407e"/>
<circle cx="470.84" cy="49.96" r="1.15" fill="#c8407e"/>
<circle cx="479.17" cy="50.42" r="1.15" fill="#c8407e"/>
<circle cx="485.17" cy="50.93" r="1.15" fill="#c8407e"/>
<circle cx="474.42" cy="51.48" r="1.15" fill="#c8407e"/>
<circle cx="481.52" cy="52.02" r="1.15" fill="#c8407e"/>
<circle cx="477.13" cy="52.42" r="1.15" fill="#c8407e"/>
<circle cx="471.83" cy="52.65" r="1.15" fill="#c8407e"/>
<circle cx="468.99" cy="52.88" r="1.15" fill="#c8407e"/>
<circle cx="486.99" cy="53.12" r="1.15" fill="#c8407e"/>
<circle cx="489.83" cy="53.35" r="1.15" fill="#c8407e"/>
<circle cx="483.91" cy="53.58" r="1.15" fill="#c8407e"/>
<circle cx="466.33" cy="53.93" r="1.15" fill="#c8407e"/>
<circle cx="479.19" cy="54.39" r="1.15" fill="#c8407e"/>
<circle cx="475.66" cy="54.86" r="1.15" fill="#c8407e"/>
<circle cx="472.85" cy="55.32" r="1.15" fill="#c8407e"/>
<circle cx="481.63" cy="55.86" r="1.15" fill="#c8407e"/>
<circle cx="484.41" cy="56.48" r="1.15" fill="#c8407e"/>
<circle cx="478.10" cy="57.09" r="1.15" fill="#c8407e"/>
<circle cx="475.37" cy="57.90" r="1.15" fill="#c8407e"/>
<circle cx="480.30" cy="58.90" r="1.15" fill="#c8407e"/>
<line x1="494" y1="44.3" x2="494" y2="48.800000000000004" stroke="#c8407e" stroke-width="1.5" stroke-opacity="0.7"/>
<line x1="494" y1="50.4" x2="494" y2="55.4" stroke="#c8407e" stroke-width="1.5" stroke-opacity="0.7"/>
<circle cx="518.25" cy="18.40" r="1.15" fill="#c9a030"/>
<circle cx="518.25" cy="23.70" r="1.15" fill="#c9a030"/>
<circle cx="518.25" cy="27.10" r="1.15" fill="#c9a030"/>
<circle cx="518.25" cy="30.60" r="1.15" fill="#c9a030"/>
<circle cx="518.25" cy="35.19" r="1.15" fill="#c9a030"/>
<circle cx="515.57" cy="36.16" r="1.15" fill="#c9a030"/>
<circle cx="520.47" cy="36.98" r="1.15" fill="#c9a030"/>
<circle cx="523.24" cy="37.62" r="1.15" fill="#c9a030"/>
<circle cx="517.93" cy="38.27" r="1.15" fill="#c9a030"/>
<circle cx="514.95" cy="38.94" r="1.15" fill="#c9a030"/>
<circle cx="512.14" cy="39.43" r="1.15" fill="#c9a030"/>
<circle cx="520.26" cy="39.92" r="1.15" fill="#c9a030"/>
<circle cx="523.87" cy="40.41" r="1.15" fill="#c9a030"/>
<circle cx="517.69" cy="41.14" r="1.15" fill="#c9a030"/>
<circle cx="515.01" cy="42.11" r="1.15" fill="#c9a030"/>
<circle cx="519.36" cy="43.44" r="1.15" fill="#c9a030"/>
<circle cx="522.17" cy="43.93" r="1.15" fill="#c9a030"/>
<circle cx="516.68" cy="44.42" r="1.15" fill="#c9a030"/>
<circle cx="513.87" cy="44.91" r="1.15" fill="#c9a030"/>
<circle cx="524.45" cy="45.48" r="1.15" fill="#c9a030"/>
<circle cx="520.33" cy="46.12" r="1.15" fill="#c9a030"/>
<circle cx="512.05" cy="46.77" r="1.15" fill="#c9a030"/>
<circle cx="518.13" cy="47.94" r="1.15" fill="#c9a030"/>
<circle cx="515.32" cy="48.41" r="1.15" fill="#c9a030"/>
<circle cx="521.03" cy="48.89" r="1.15" fill="#c9a030"/>
<circle cx="523.84" cy="49.36" r="1.15" fill="#c9a030"/>
<circle cx="513.00" cy="50.07" r="1.15" fill="#c9a030"/>
<circle cx="518.25" cy="51.02" r="1.15" fill="#c9a030"/>
<circle cx="515.55" cy="51.92" r="1.15" fill="#c9a030"/>
<circle cx="520.64" cy="52.58" r="1.15" fill="#c9a030"/>
<circle cx="523.42" cy="53.22" r="1.15" fill="#c9a030"/>
<circle cx="518.25" cy="54.40" r="1.15" fill="#c9a030"/>
<circle cx="516.50" cy="56.65" r="1.15" fill="#c9a030"/>
<circle cx="519.13" cy="57.75" r="1.15" fill="#c9a030"/>
<line x1="527" y1="33.6" x2="527" y2="42.7" stroke="#c9a030" stroke-width="1.5" stroke-opacity="0.7"/>
<line x1="527" y1="44.3" x2="527" y2="53.3" stroke="#c9a030" stroke-width="1.5" stroke-opacity="0.7"/>
<text x="40" y="127.5" font-size="10" text-anchor="middle" font-weight="normal" font-style="normal" fill="#111" transform="rotate(-90 40 127.5)" textLength="78.7" lengthAdjust="spacingAndGlyphs" stroke="#111" stroke-width="0.3">MEAN DIFFERENCE</text>
<line x1="56.5" y1="95.3" x2="56.5" y2="164" stroke="#6a6a6a" stroke-width="1.4"/>
<line x1="54.3" y1="154.75" x2="56.5" y2="154.75" stroke="#444" stroke-width="1.0"/>
<text x="53.2" y="156.75" font-size="5.9" text-anchor="end" font-weight="normal" font-style="normal" fill="#333" textLength="7.1" lengthAdjust="spacingAndGlyphs" stroke="#333" stroke-width="0.2">0.4</text>
<line x1="54.3" y1="143.3" x2="56.5" y2="143.3" stroke="#444" stroke-width="1.0"/>
<text x="53.2" y="145.3" font-size="5.9" text-anchor="end" font-weight="normal" font-style="normal" fill="#333" textLength="7.1" lengthAdjust="spacingAndGlyphs" stroke="#333" stroke-width="0.2">0.6</text>
<line x1="54.3" y1="131.85" x2="56.5" y2="131.85" stroke="#444" stroke-width="1.0"/>
<text x="53.2" y="133.85" font-size="5.9" text-anchor="end" font-weight="normal" font-style="normal" fill="#333" textLength="7.1" lengthAdjust="spacingAndGlyphs" stroke="#333" stroke-width="0.2">0.8</text>
<line x1="54.3" y1="120.39999999999999" x2="56.5" y2="120.39999999999999" stroke="#444" stroke-width="1.0"/>
<text x="53.2" y="122.39999999999999" font-size="5.9" text-anchor="end" font-weight="normal" font-style="normal" fill="#333" textLength="7.1" lengthAdjust="spacingAndGlyphs" stroke="#333" stroke-width="0.2">1.0</text>
<line x1="54.3" y1="108.95" x2="56.5" y2="108.95" stroke="#444" stroke-width="1.0"/>
<text x="53.2" y="110.95" font-size="5.9" text-anchor="end" font-weight="normal" font-style="normal" fill="#333" textLength="7.1" lengthAdjust="spacingAndGlyphs" stroke="#333" stroke-width="0.2">1.2</text>
<line x1="54.3" y1="97.5" x2="56.5" y2="97.5" stroke="#444" stroke-width="1.0"/>
<text x="53.2" y="99.5" font-size="5.9" text-anchor="end" font-weight="normal" font-style="normal" fill="#333" textLength="7.1" lengthAdjust="spacingAndGlyphs" stroke="#333" stroke-width="0.2">1.4</text>
<line x1="76.6" y1="164.6" x2="518.25" y2="164.6" stroke="#6a6a6a" stroke-width="1.4"/>
<path d="M117.10,118.59 L117.10,118.59 L117.54,119.00 L118.07,119.42 L118.64,119.83 L119.24,120.25 L119.87,120.66 L120.52,121.07 L121.18,121.49 L121.86,121.90 L122.55,122.32 L123.25,122.73 L123.96,123.14 L124.68,123.56 L125.41,123.97 L126.15,124.39 L126.90,124.80 L126.15,125.21 L125.41,125.63 L124.68,126.04 L123.96,126.46 L123.25,126.87 L122.55,127.28 L121.86,127.70 L121.18,128.11 L120.52,128.53 L119.87,128.94 L119.24,129.35 L118.64,129.77 L118.07,130.18 L117.54,130.60 L117.10,131.01 L117.10,131.01 Z" fill="#f58f2c"/>
<line x1="117.40" y1="115.09" x2="117.40" y2="134.51" stroke="#f58f2c" stroke-width="1" stroke-opacity="0.35"/>
<line x1="117.1" y1="119.05" x2="117.1" y2="130.55" stroke="#111" stroke-width="1.4"/>
<circle cx="117.10" cy="124.80" r="1.9" fill="#000"/>
<path d="M156.90,129.99 L156.90,129.99 L157.35,130.45 L157.91,130.91 L158.50,131.37 L159.13,131.83 L159.78,132.29 L160.46,132.75 L161.15,133.21 L161.85,133.67 L162.57,134.14 L163.30,134.60 L164.04,135.06 L164.79,135.52 L165.55,135.98 L166.32,136.44 L167.10,136.90 L166.32,137.36 L165.55,137.82 L164.79,138.28 L164.04,138.74 L163.30,139.20 L162.57,139.66 L161.85,140.13 L161.15,140.59 L160.46,141.05 L159.78,141.51 L159.13,141.97 L158.50,142.43 L157.91,142.89 L157.35,143.35 L156.90,143.81 L156.90,143.81 Z" fill="#48ae48"/>
<line x1="157.20" y1="126.49" x2="157.20" y2="147.31" stroke="#48ae48" stroke-width="1" stroke-opacity="0.35"/>
<line x1="156.9" y1="130.5" x2="156.9" y2="143.3" stroke="#111" stroke-width="1.4"/>
<circle cx="156.90" cy="136.90" r="1.9" fill="#000"/>
<path d="M197.20,135.48 L197.20,135.48 L197.63,136.04 L198.15,136.59 L198.71,137.15 L199.30,137.70 L199.91,138.26 L200.55,138.81 L201.20,139.36 L201.86,139.92 L202.54,140.47 L203.22,141.03 L203.92,141.58 L204.63,142.14 L205.34,142.69 L206.07,143.25 L206.80,143.80 L206.07,144.35 L205.34,144.91 L204.63,145.46 L203.92,146.02 L203.22,146.57 L202.54,147.13 L201.86,147.68 L201.20,148.24 L200.55,148.79 L199.91,149.34 L199.30,149.90 L198.71,150.45 L198.15,151.01 L197.63,151.56 L197.20,152.12 L197.20,152.12 Z" fill="#e24848"/>
<line x1="197.50" y1="131.98" x2="197.50" y2="155.62" stroke="#e24848" stroke-width="1" stroke-opacity="0.35"/>
<line x1="197.2" y1="136.10000000000002" x2="197.2" y2="151.5" stroke="#111" stroke-width="1.4"/>
<circle cx="197.20" cy="143.80" r="1.9" fill="#000"/>
<path d="M237.40,103.90 L237.40,103.90 L237.84,104.62 L238.38,105.34 L238.96,106.06 L239.57,106.78 L240.20,107.50 L240.85,108.22 L241.52,108.94 L242.20,109.66 L242.90,110.38 L243.61,111.10 L244.33,111.82 L245.06,112.54 L245.80,113.26 L246.54,113.98 L247.30,114.70 L246.54,115.42 L245.80,116.14 L245.06,116.86 L244.33,117.58 L243.61,118.30 L242.90,119.02 L242.20,119.74 L241.52,120.46 L240.85,121.18 L240.20,121.90 L239.57,122.62 L238.96,123.34 L238.38,124.06 L237.84,124.78 L237.40,125.50 L237.40,125.50 Z" fill="#a47ed4"/>
<line x1="237.70" y1="100.40" x2="237.70" y2="129.00" stroke="#a47ed4" stroke-width="1" stroke-opacity="0.35"/>
<line x1="237.4" y1="104.7" x2="237.4" y2="124.7" stroke="#111" stroke-width="1.4"/>
<circle cx="237.40" cy="114.70" r="1.9" fill="#000"/>
<path d="M277.50,138.16 L277.50,138.16 L277.93,138.74 L278.46,139.31 L279.02,139.89 L279.62,140.46 L280.24,141.04 L280.88,141.62 L281.54,142.19 L282.21,142.77 L282.89,143.34 L283.59,143.92 L284.29,144.50 L285.00,145.07 L285.73,145.65 L286.46,146.22 L287.20,146.80 L286.46,147.38 L285.73,147.95 L285.00,148.53 L284.29,149.10 L283.59,149.68 L282.89,150.26 L282.21,150.83 L281.54,151.41 L280.88,151.98 L280.24,152.56 L279.62,153.14 L279.02,153.71 L278.46,154.29 L277.93,154.86 L277.50,155.44 L277.50,155.44 Z" fill="#9a6a5e"/>
<line x1="277.80" y1="134.66" x2="277.80" y2="158.94" stroke="#9a6a5e" stroke-width="1" stroke-opacity="0.35"/>
<line x1="277.5" y1="138.8" x2="277.5" y2="154.8" stroke="#111" stroke-width="1.4"/>
<circle cx="277.50" cy="146.80" r="1.9" fill="#000"/>
<path d="M317.50,143.00 L317.50,143.00 L317.95,143.45 L318.50,143.90 L319.09,144.34 L319.71,144.79 L320.36,145.24 L321.02,145.68 L321.70,146.13 L322.40,146.58 L323.11,147.02 L323.84,147.47 L324.57,147.91 L325.31,148.36 L326.07,148.81 L326.83,149.25 L327.60,149.70 L326.83,150.15 L326.07,150.59 L325.31,151.04 L324.57,151.49 L323.84,151.93 L323.11,152.38 L322.40,152.82 L321.70,153.27 L321.02,153.72 L320.36,154.16 L319.71,154.61 L319.09,155.06 L318.50,155.50 L317.95,155.95 L317.50,156.40 L317.50,156.40 Z" fill="#ef86cc"/>
<line x1="317.80" y1="139.50" x2="317.80" y2="159.90" stroke="#ef86cc" stroke-width="1" stroke-opacity="0.35"/>
<line x1="317.5" y1="143.5" x2="317.5" y2="155.89999999999998" stroke="#111" stroke-width="1.4"/>
<circle cx="317.50" cy="149.70" r="1.9" fill="#000"/>
<path d="M357.90,109.18 L357.90,109.18 L358.33,109.83 L358.86,110.48 L359.42,111.12 L360.02,111.77 L360.64,112.42 L361.28,113.07 L361.94,113.72 L362.61,114.36 L363.29,115.01 L363.99,115.66 L364.69,116.31 L365.40,116.96 L366.13,117.60 L366.86,118.25 L367.60,118.90 L366.86,119.55 L366.13,120.20 L365.40,120.84 L364.69,121.49 L363.99,122.14 L363.29,122.79 L362.61,123.44 L361.94,124.08 L361.28,124.73 L360.64,125.38 L360.02,126.03 L359.42,126.68 L358.86,127.32 L358.33,127.97 L357.90,128.62 L357.90,128.62 Z" fill="#8e8e8e"/>
<line x1="358.20" y1="105.68" x2="358.20" y2="132.12" stroke="#8e8e8e" stroke-width="1" stroke-opacity="0.35"/>
<line x1="357.9" y1="109.9" x2="357.9" y2="127.9" stroke="#111" stroke-width="1.4"/>
<circle cx="357.90" cy="118.90" r="1.9" fill="#000"/>
<path d="M397.80,134.23 L397.80,134.23 L398.25,134.65 L398.81,135.08 L399.40,135.50 L400.03,135.93 L400.68,136.35 L401.36,136.78 L402.05,137.20 L402.75,137.63 L403.47,138.05 L404.20,138.48 L404.94,138.90 L405.69,139.33 L406.45,139.75 L407.22,140.18 L408.00,140.60 L407.22,141.02 L406.45,141.45 L405.69,141.87 L404.94,142.30 L404.20,142.72 L403.47,143.15 L402.75,143.57 L402.05,144.00 L401.36,144.42 L400.68,144.85 L400.03,145.27 L399.40,145.70 L398.81,146.12 L398.25,146.55 L397.80,146.97 L397.80,146.97 Z" fill="#c8c83a"/>
<line x1="398.10" y1="130.73" x2="398.10" y2="150.47" stroke="#c8c83a" stroke-width="1" stroke-opacity="0.35"/>
<line x1="397.8" y1="134.7" x2="397.8" y2="146.5" stroke="#111" stroke-width="1.4"/>
<circle cx="397.80" cy="140.60" r="1.9" fill="#000"/>
<path d="M438.10,124.94 L438.10,124.94 L438.53,125.35 L439.06,125.77 L439.62,126.19 L440.22,126.61 L440.84,127.02 L441.48,127.44 L442.14,127.86 L442.81,128.28 L443.49,128.69 L444.19,129.11 L444.89,129.53 L445.60,129.95 L446.33,130.36 L447.06,130.78 L447.80,131.20 L447.06,131.62 L446.33,132.04 L445.60,132.45 L444.89,132.87 L444.19,133.29 L443.49,133.71 L442.81,134.12 L442.14,134.54 L441.48,134.96 L440.84,135.38 L440.22,135.79 L439.62,136.21 L439.06,136.63 L438.53,137.05 L438.10,137.46 L438.10,137.46 Z" fill="#2cc3d8"/>
<line x1="438.40" y1="121.44" x2="438.40" y2="140.96" stroke="#2cc3d8" stroke-width="1" stroke-opacity="0.35"/>
<line x1="438.1" y1="125.39999999999999" x2="438.1" y2="137.0" stroke="#111" stroke-width="1.4"/>
<circle cx="438.10" cy="131.20" r="1.9" fill="#000"/>
<path d="M477.70,130.42 L477.70,130.42 L478.15,130.85 L478.71,131.28 L479.30,131.72 L479.93,132.15 L480.58,132.58 L481.26,133.01 L481.95,133.44 L482.65,133.88 L483.37,134.31 L484.10,134.74 L484.84,135.17 L485.59,135.60 L486.35,136.04 L487.12,136.47 L487.90,136.90 L487.12,137.33 L486.35,137.76 L485.59,138.20 L484.84,138.63 L484.10,139.06 L483.37,139.49 L482.65,139.92 L481.95,140.36 L481.26,140.79 L480.58,141.22 L479.93,141.65 L479.30,142.08 L478.71,142.52 L478.15,142.95 L477.70,143.38 L477.70,143.38 Z" fill="#ea4c9c"/>
<line x1="478.00" y1="126.92" x2="478.00" y2="146.88" stroke="#ea4c9c" stroke-width="1" stroke-opacity="0.35"/>
<line x1="477.7" y1="130.9" x2="477.7" y2="142.9" stroke="#111" stroke-width="1.4"/>
<circle cx="477.70" cy="136.90" r="1.9" fill="#000"/>
<path d="M518.20,114.24 L518.20,114.24 L518.64,114.83 L519.17,115.43 L519.74,116.03 L520.34,116.63 L520.97,117.22 L521.62,117.82 L522.28,118.42 L522.96,119.02 L523.65,119.61 L524.35,120.21 L525.06,120.81 L525.78,121.41 L526.51,122.00 L527.25,122.60 L528.00,123.20 L527.25,123.80 L526.51,124.40 L525.78,124.99 L525.06,125.59 L524.35,126.19 L523.65,126.79 L522.96,127.38 L522.28,127.98 L521.62,128.58 L520.97,129.18 L520.34,129.77 L519.74,130.37 L519.17,130.97 L518.64,131.57 L518.20,132.16 L518.20,132.16 Z" fill="#eaa62c"/>
<line x1="518.50" y1="110.74" x2="518.50" y2="135.66" stroke="#eaa62c" stroke-width="1" stroke-opacity="0.35"/>
<line x1="518.2" y1="114.9" x2="518.2" y2="131.5" stroke="#111" stroke-width="1.4"/>
<circle cx="518.20" cy="123.20" r="1.9" fill="#000"/>
<text x="89.80" y="171.40" font-size="8.26" text-anchor="end" font-style="italic" fill="#111" stroke="#111" stroke-width="0.22" transform="rotate(-76 89.80 171.40)">H<tspan font-size="5.8" dy="2.2" dx="0.2">2</tspan><tspan dy="-2.2" dx="0.2">O</tspan></text>
<text x="129.40" y="169.50" font-size="8.7" text-anchor="end" font-style="italic" fill="#111" stroke="#111" stroke-width="0.22" transform="rotate(-76 129.40 169.50)" textLength="14.82" lengthAdjust="spacing">F31</text>
<text x="167.80" y="171.00" font-size="8.7" text-anchor="end" font-style="italic" fill="#111" stroke="#111" stroke-width="0.22" transform="rotate(-76 167.80 171.00)" textLength="48.40" lengthAdjust="spacing">NRRL 28893</text>
<text x="207.30" y="170.50" font-size="8.7" text-anchor="end" font-style="italic" fill="#111" stroke="#111" stroke-width="0.22" transform="rotate(-76 207.30 170.50)" textLength="49.63" lengthAdjust="spacing">NRRL 28895</text>
<text x="248.40" y="171.00" font-size="8.7" text-anchor="end" font-style="italic" fill="#111" stroke="#111" stroke-width="0.22" transform="rotate(-76 248.40 171.00)" textLength="48.64" lengthAdjust="spacing">NRRL 28897</text>
<text x="287.30" y="170.50" font-size="8.7" text-anchor="end" font-style="italic" fill="#111" stroke="#111" stroke-width="0.22" transform="rotate(-76 287.30 170.50)" textLength="51.97" lengthAdjust="spacing">MUCL 51372</text>
<text x="327.40" y="170.00" font-size="8.7" text-anchor="end" font-style="italic" fill="#111" stroke="#111" stroke-width="0.22" transform="rotate(-76 327.40 170.00)" textLength="49.68" lengthAdjust="spacing">NRRL 25673</text>
<text x="367.30" y="170.50" font-size="8.7" text-anchor="end" font-style="italic" fill="#111" stroke="#111" stroke-width="0.22" transform="rotate(-76 367.30 170.50)" textLength="49.68" lengthAdjust="spacing">NRRL 25059</text>
<text x="407.40" y="170.50" font-size="8.7" text-anchor="end" font-style="italic" fill="#111" stroke="#111" stroke-width="0.22" transform="rotate(-76 407.40 170.50)" textLength="43.77" lengthAdjust="spacing">ITEM 1250</text>
<text x="447.00" y="169.00" font-size="8.7" text-anchor="end" font-style="italic" fill="#111" stroke="#111" stroke-width="0.22" transform="rotate(-76 447.00 169.00)" textLength="44.85" lengthAdjust="spacing">ITEM 1149</text>
<text x="487.00" y="169.00" font-size="8.7" text-anchor="end" font-style="italic" fill="#111" stroke="#111" stroke-width="0.22" transform="rotate(-76 487.00 169.00)" textLength="44.85" lengthAdjust="spacing">ITEM 1142</text>
<text x="526.00" y="168.00" font-size="8.7" text-anchor="end" font-style="italic" fill="#111" stroke="#111" stroke-width="0.22" transform="rotate(-76 526.00 168.00)" textLength="45.95" lengthAdjust="spacing">ITEM 1121</text>
<line x1="26" y1="232.8" x2="542" y2="232.8" stroke="#000" stroke-width="2"/>
<text x="10.6" y="257.8" font-size="17.2" text-anchor="middle" font-weight="bold" font-style="normal" fill="#000" textLength="9.8" lengthAdjust="spacingAndGlyphs" stroke="#000" stroke-width="0.45">B</text>
<text x="40" y="283.6" font-size="10" text-anchor="middle" font-weight="normal" font-style="normal" fill="#111" transform="rotate(-90 40 283.6)" textLength="28" lengthAdjust="spacingAndGlyphs" stroke="#111" stroke-width="0.3">VALUE</text>
<line x1="59.6" y1="248.2" x2="59.6" y2="322.4" stroke="#6a6a6a" stroke-width="1.4"/>
<line x1="57.4" y1="318.7" x2="59.6" y2="318.7" stroke="#444" stroke-width="1.0"/>
<text x="55.6" y="320.7" font-size="5.9" text-anchor="end" font-weight="normal" font-style="normal" fill="#333" textLength="7.4" lengthAdjust="spacingAndGlyphs" stroke="#333" stroke-width="0.2">0.0</text>
<line x1="57.4" y1="306.985" x2="59.6" y2="306.985" stroke="#444" stroke-width="1.0"/>
<text x="55.6" y="308.985" font-size="5.9" text-anchor="end" font-weight="normal" font-style="normal" fill="#333" textLength="7.4" lengthAdjust="spacingAndGlyphs" stroke="#333" stroke-width="0.2">0.5</text>
<line x1="57.4" y1="295.27" x2="59.6" y2="295.27" stroke="#444" stroke-width="1.0"/>
<text x="55.6" y="297.27" font-size="5.9" text-anchor="end" font-weight="normal" font-style="normal" fill="#333" textLength="7.4" lengthAdjust="spacingAndGlyphs" stroke="#333" stroke-width="0.2">1.0</text>
<line x1="57.4" y1="283.555" x2="59.6" y2="283.555" stroke="#444" stroke-width="1.0"/>
<text x="55.6" y="285.555" font-size="5.9" text-anchor="end" font-weight="normal" font-style="normal" fill="#333" textLength="7.4" lengthAdjust="spacingAndGlyphs" stroke="#333" stroke-width="0.2">1.5</text>
<line x1="57.4" y1="271.84" x2="59.6" y2="271.84" stroke="#444" stroke-width="1.0"/>
<text x="55.6" y="273.84" font-size="5.9" text-anchor="end" font-weight="normal" font-style="normal" fill="#333" textLength="7.4" lengthAdjust="spacingAndGlyphs" stroke="#333" stroke-width="0.2">2.0</text>
<line x1="57.4" y1="260.125" x2="59.6" y2="260.125" stroke="#444" stroke-width="1.0"/>
<text x="55.6" y="262.125" font-size="5.9" text-anchor="end" font-weight="normal" font-style="normal" fill="#333" textLength="7.4" lengthAdjust="spacingAndGlyphs" stroke="#333" stroke-width="0.2">2.5</text>
<line x1="57.4" y1="248.41" x2="59.6" y2="248.41" stroke="#444" stroke-width="1.0"/>
<text x="55.6" y="250.41" font-size="5.9" text-anchor="end" font-weight="normal" font-style="normal" fill="#333" textLength="7.4" lengthAdjust="spacingAndGlyphs" stroke="#333" stroke-width="0.2">3.0</text>
<line x1="81.5" y1="322.7" x2="428.3" y2="322.7" stroke="#6a6a6a" stroke-width="1.4"/>
<line x1="81.5" y1="322.7" x2="81.5" y2="324.3" stroke="#6a6a6a" stroke-width="0.7"/>
<line x1="124.85" y1="322.7" x2="124.85" y2="324.3" stroke="#6a6a6a" stroke-width="0.7"/>
<line x1="168.2" y1="322.7" x2="168.2" y2="324.3" stroke="#6a6a6a" stroke-width="0.7"/>
<line x1="211.55" y1="322.7" x2="211.55" y2="324.3" stroke="#6a6a6a" stroke-width="0.7"/>
<line x1="254.9" y1="322.7" x2="254.9" y2="324.3" stroke="#6a6a6a" stroke-width="0.7"/>
<line x1="298.25" y1="322.7" x2="298.25" y2="324.3" stroke="#6a6a6a" stroke-width="0.7"/>
<line x1="341.6" y1="322.7" x2="341.6" y2="324.3" stroke="#6a6a6a" stroke-width="0.7"/>
<line x1="384.95" y1="322.7" x2="384.95" y2="324.3" stroke="#6a6a6a" stroke-width="0.7"/>
<line x1="428.3" y1="322.7" x2="428.3" y2="324.3" stroke="#6a6a6a" stroke-width="0.7"/>
<text x="81.5" y="330.7" font-size="5.8" text-anchor="middle" font-weight="normal" font-style="normal" fill="#333" stroke="#333" stroke-width="0.12">H2O</text>
<text x="81.5" y="337.3" font-size="5.8" text-anchor="middle" font-weight="normal" font-style="normal" fill="#333" stroke="#333" stroke-width="0.12">N = 65</text>
<text x="124.85" y="330.7" font-size="5.8" text-anchor="middle" font-weight="normal" font-style="normal" fill="#333" stroke="#333" stroke-width="0.12">IUM 11-0507</text>
<text x="124.85" y="337.3" font-size="5.8" text-anchor="middle" font-weight="normal" font-style="normal" fill="#333" stroke="#333" stroke-width="0.12">N = 38</text>
<text x="168.2" y="330.7" font-size="5.8" text-anchor="middle" font-weight="normal" font-style="normal" fill="#333" stroke="#333" stroke-width="0.12">IUM 11-0508</text>
<text x="168.2" y="337.3" font-size="5.8" text-anchor="middle" font-weight="normal" font-style="normal" fill="#333" stroke="#333" stroke-width="0.12">N = 78</text>
<text x="211.55" y="330.7" font-size="5.8" text-anchor="middle" font-weight="normal" font-style="normal" fill="#333" stroke="#333" stroke-width="0.12">NRRL 43601</text>
<text x="211.55" y="337.3" font-size="5.8" text-anchor="middle" font-weight="normal" font-style="normal" fill="#333" stroke="#333" stroke-width="0.12">N = 56</text>
<text x="254.9" y="330.7" font-size="5.8" text-anchor="middle" font-weight="normal" font-style="normal" fill="#333" stroke="#333" stroke-width="0.12">NRRL 43604</text>
<text x="254.9" y="337.3" font-size="5.8" text-anchor="middle" font-weight="normal" font-style="normal" fill="#333" stroke="#333" stroke-width="0.12">N = 74</text>
<text x="298.25" y="330.7" font-size="5.8" text-anchor="middle" font-weight="normal" font-style="normal" fill="#333" stroke="#333" stroke-width="0.12">NRRL 43658</text>
<text x="298.25" y="337.3" font-size="5.8" text-anchor="middle" font-weight="normal" font-style="normal" fill="#333" stroke="#333" stroke-width="0.12">N = 56</text>
<text x="341.6" y="330.7" font-size="5.8" text-anchor="middle" font-weight="normal" font-style="normal" fill="#333" stroke="#333" stroke-width="0.12">NRRL 43682</text>
<text x="341.6" y="337.3" font-size="5.8" text-anchor="middle" font-weight="normal" font-style="normal" fill="#333" stroke="#333" stroke-width="0.12">N = 69</text>
<text x="384.95" y="330.7" font-size="5.8" text-anchor="middle" font-weight="normal" font-style="normal" fill="#333" stroke="#333" stroke-width="0.12">IHEM 20180</text>
<text x="384.95" y="337.3" font-size="5.8" text-anchor="middle" font-weight="normal" font-style="normal" fill="#333" stroke="#333" stroke-width="0.12">N = 75</text>
<text x="428.3" y="330.7" font-size="5.8" text-anchor="middle" font-weight="normal" font-style="normal" fill="#333" stroke="#333" stroke-width="0.12">IHEM 19881</text>
<text x="428.3" y="337.3" font-size="5.8" text-anchor="middle" font-weight="normal" font-style="normal" fill="#333" stroke="#333" stroke-width="0.12">N = 74</text>
<circle cx="81.50" cy="294.60" r="1.15" fill="#2f6a98"/>
<circle cx="81.50" cy="304.60" r="1.15" fill="#2f6a98"/>
<circle cx="81.50" cy="309.16" r="1.15" fill="#2f6a98"/>
<circle cx="78.65" cy="309.19" r="1.15" fill="#2f6a98"/>
<circle cx="84.35" cy="309.21" r="1.15" fill="#2f6a98"/>
<circle cx="75.80" cy="309.24" r="1.15" fill="#2f6a98"/>
<circle cx="80.34" cy="311.77" r="1.15" fill="#2f6a98"/>
<circle cx="77.49" cy="311.80" r="1.15" fill="#2f6a98"/>
<circle cx="83.19" cy="311.83" r="1.15" fill="#2f6a98"/>
<circle cx="81.50" cy="318.49" r="1.15" fill="#2f6a98"/>
<circle cx="78.65" cy="318.49" r="1.15" fill="#2f6a98"/>
<circle cx="84.35" cy="318.49" r="1.15" fill="#2f6a98"/>
<circle cx="75.80" cy="318.49" r="1.15" fill="#2f6a98"/>
<circle cx="87.20" cy="318.49" r="1.15" fill="#2f6a98"/>
<circle cx="72.95" cy="318.49" r="1.15" fill="#2f6a98"/>
<circle cx="90.05" cy="318.49" r="1.15" fill="#2f6a98"/>
<circle cx="70.10" cy="318.49" r="1.15" fill="#2f6a98"/>
<circle cx="92.90" cy="318.49" r="1.15" fill="#2f6a98"/>
<circle cx="67.25" cy="318.49" r="1.15" fill="#2f6a98"/>
<circle cx="95.75" cy="318.49" r="1.15" fill="#2f6a98"/>
<circle cx="64.40" cy="318.49" r="1.15" fill="#2f6a98"/>
<circle cx="98.60" cy="318.49" r="1.15" fill="#2f6a98"/>
<circle cx="63.30" cy="318.49" r="1.15" fill="#2f6a98"/>
<circle cx="99.70" cy="318.50" r="1.15" fill="#2f6a98"/>
<circle cx="63.30" cy="318.50" r="1.15" fill="#2f6a98"/>
<circle cx="99.70" cy="318.50" r="1.15" fill="#2f6a98"/>
<circle cx="63.30" cy="318.50" r="1.15" fill="#2f6a98"/>
<circle cx="99.70" cy="318.50" r="1.15" fill="#2f6a98"/>
<circle cx="63.30" cy="318.50" r="1.15" fill="#2f6a98"/>
<circle cx="99.70" cy="318.50" r="1.15" fill="#2f6a98"/>
<circle cx="63.30" cy="318.50" r="1.15" fill="#2f6a98"/>
<circle cx="99.70" cy="318.50" r="1.15" fill="#2f6a98"/>
<circle cx="63.30" cy="318.50" r="1.15" fill="#2f6a98"/>
<circle cx="99.70" cy="318.50" r="1.15" fill="#2f6a98"/>
<circle cx="63.30" cy="318.50" r="1.15" fill="#2f6a98"/>
<circle cx="99.70" cy="318.50" r="1.15" fill="#2f6a98"/>
<circle cx="63.30" cy="318.50" r="1.15" fill="#2f6a98"/>
<circle cx="99.70" cy="318.50" r="1.15" fill="#2f6a98"/>
<circle cx="63.30" cy="318.50" r="1.15" fill="#2f6a98"/>
<circle cx="99.70" cy="318.50" r="1.15" fill="#2f6a98"/>
<circle cx="63.30" cy="318.50" r="1.15" fill="#2f6a98"/>
<circle cx="99.70" cy="318.50" r="1.15" fill="#2f6a98"/>
<circle cx="63.30" cy="318.50" r="1.15" fill="#2f6a98"/>
<circle cx="99.70" cy="318.50" r="1.15" fill="#2f6a98"/>
<circle cx="63.30" cy="318.50" r="1.15" fill="#2f6a98"/>
<circle cx="99.70" cy="318.50" r="1.15" fill="#2f6a98"/>
<circle cx="63.30" cy="318.50" r="1.15" fill="#2f6a98"/>
<circle cx="99.70" cy="318.50" r="1.15" fill="#2f6a98"/>
<circle cx="63.30" cy="318.50" r="1.15" fill="#2f6a98"/>
<circle cx="99.70" cy="318.50" r="1.15" fill="#2f6a98"/>
<circle cx="63.30" cy="318.50" r="1.15" fill="#2f6a98"/>
<circle cx="99.70" cy="318.51" r="1.15" fill="#2f6a98"/>
<circle cx="63.30" cy="318.51" r="1.15" fill="#2f6a98"/>
<circle cx="99.70" cy="318.51" r="1.15" fill="#2f6a98"/>
<circle cx="63.30" cy="318.51" r="1.15" fill="#2f6a98"/>
<circle cx="99.70" cy="318.51" r="1.15" fill="#2f6a98"/>
<circle cx="63.30" cy="318.51" r="1.15" fill="#2f6a98"/>
<circle cx="99.70" cy="318.51" r="1.15" fill="#2f6a98"/>
<circle cx="63.30" cy="318.51" r="1.15" fill="#2f6a98"/>
<circle cx="99.70" cy="318.51" r="1.15" fill="#2f6a98"/>
<circle cx="63.30" cy="318.51" r="1.15" fill="#2f6a98"/>
<circle cx="99.70" cy="318.51" r="1.15" fill="#2f6a98"/>
<circle cx="63.30" cy="318.51" r="1.15" fill="#2f6a98"/>
<circle cx="99.70" cy="318.51" r="1.15" fill="#2f6a98"/>
<circle cx="63.30" cy="318.51" r="1.15" fill="#2f6a98"/>
<line x1="102.7" y1="313" x2="102.7" y2="315.7" stroke="#2f6a98" stroke-width="1.5" stroke-opacity="0.7"/>
<line x1="102.7" y1="317.3" x2="102.7" y2="321.2" stroke="#2f6a98" stroke-width="1.5" stroke-opacity="0.7"/>
<circle cx="124.85" cy="306.97" r="1.15" fill="#d9822e"/>
<circle cx="122.02" cy="307.30" r="1.15" fill="#d9822e"/>
<circle cx="127.62" cy="307.63" r="1.15" fill="#d9822e"/>
<circle cx="119.34" cy="308.26" r="1.15" fill="#d9822e"/>
<circle cx="130.31" cy="308.58" r="1.15" fill="#d9822e"/>
<circle cx="133.14" cy="308.89" r="1.15" fill="#d9822e"/>
<circle cx="116.61" cy="309.09" r="1.15" fill="#d9822e"/>
<circle cx="113.76" cy="309.18" r="1.15" fill="#d9822e"/>
<circle cx="135.97" cy="309.27" r="1.15" fill="#d9822e"/>
<circle cx="110.92" cy="309.35" r="1.15" fill="#d9822e"/>
<circle cx="138.81" cy="309.44" r="1.15" fill="#d9822e"/>
<circle cx="108.07" cy="309.52" r="1.15" fill="#d9822e"/>
<circle cx="123.79" cy="309.61" r="1.15" fill="#d9822e"/>
<circle cx="141.65" cy="309.70" r="1.15" fill="#d9822e"/>
<circle cx="106.85" cy="309.78" r="1.15" fill="#d9822e"/>
<circle cx="142.85" cy="309.87" r="1.15" fill="#d9822e"/>
<circle cx="106.85" cy="309.96" r="1.15" fill="#d9822e"/>
<circle cx="126.54" cy="310.37" r="1.15" fill="#d9822e"/>
<circle cx="121.15" cy="310.70" r="1.15" fill="#d9822e"/>
<circle cx="142.85" cy="311.03" r="1.15" fill="#d9822e"/>
<circle cx="128.84" cy="312.05" r="1.15" fill="#d9822e"/>
<circle cx="124.70" cy="312.55" r="1.15" fill="#d9822e"/>
<circle cx="122.17" cy="313.85" r="1.15" fill="#d9822e"/>
<circle cx="126.91" cy="314.35" r="1.15" fill="#d9822e"/>
<circle cx="124.56" cy="315.96" r="1.15" fill="#d9822e"/>
<circle cx="129.17" cy="316.09" r="1.15" fill="#d9822e"/>
<circle cx="120.57" cy="316.21" r="1.15" fill="#d9822e"/>
<circle cx="117.73" cy="316.34" r="1.15" fill="#d9822e"/>
<circle cx="132.00" cy="316.46" r="1.15" fill="#d9822e"/>
<circle cx="114.89" cy="316.59" r="1.15" fill="#d9822e"/>
<circle cx="134.84" cy="316.71" r="1.15" fill="#d9822e"/>
<circle cx="112.05" cy="316.84" r="1.15" fill="#d9822e"/>
<circle cx="125.89" cy="318.48" r="1.15" fill="#d9822e"/>
<circle cx="123.05" cy="318.65" r="1.15" fill="#d9822e"/>
<circle cx="129.99" cy="318.82" r="1.15" fill="#d9822e"/>
<circle cx="119.91" cy="318.98" r="1.15" fill="#d9822e"/>
<circle cx="117.06" cy="319.15" r="1.15" fill="#d9822e"/>
<circle cx="132.80" cy="319.32" r="1.15" fill="#d9822e"/>
<line x1="146.5" y1="308.6" x2="146.5" y2="311.7" stroke="#d9822e" stroke-width="1.5" stroke-opacity="0.7"/>
<line x1="146.5" y1="313.3" x2="146.5" y2="317.3" stroke="#d9822e" stroke-width="1.5" stroke-opacity="0.7"/>
<circle cx="168.20" cy="274.87" r="1.15" fill="#3a8c3a"/>
<circle cx="165.94" cy="276.60" r="1.15" fill="#3a8c3a"/>
<circle cx="168.20" cy="278.33" r="1.15" fill="#3a8c3a"/>
<circle cx="168.20" cy="282.10" r="1.15" fill="#3a8c3a"/>
<circle cx="168.20" cy="289.73" r="1.15" fill="#3a8c3a"/>
<circle cx="165.43" cy="290.40" r="1.15" fill="#3a8c3a"/>
<circle cx="170.72" cy="291.07" r="1.15" fill="#3a8c3a"/>
<circle cx="162.91" cy="291.75" r="1.15" fill="#3a8c3a"/>
<circle cx="173.23" cy="292.42" r="1.15" fill="#3a8c3a"/>
<circle cx="168.20" cy="293.00" r="1.15" fill="#3a8c3a"/>
<circle cx="165.39" cy="293.50" r="1.15" fill="#3a8c3a"/>
<circle cx="161.17" cy="294.00" r="1.15" fill="#3a8c3a"/>
<circle cx="170.67" cy="294.43" r="1.15" fill="#3a8c3a"/>
<circle cx="174.81" cy="294.79" r="1.15" fill="#3a8c3a"/>
<circle cx="177.63" cy="295.15" r="1.15" fill="#3a8c3a"/>
<circle cx="158.75" cy="295.51" r="1.15" fill="#3a8c3a"/>
<circle cx="168.20" cy="295.87" r="1.15" fill="#3a8c3a"/>
<circle cx="164.42" cy="296.18" r="1.15" fill="#3a8c3a"/>
<circle cx="180.18" cy="296.44" r="1.15" fill="#3a8c3a"/>
<circle cx="172.40" cy="296.69" r="1.15" fill="#3a8c3a"/>
<circle cx="161.68" cy="296.95" r="1.15" fill="#3a8c3a"/>
<circle cx="156.47" cy="297.21" r="1.15" fill="#3a8c3a"/>
<circle cx="175.79" cy="297.46" r="1.15" fill="#3a8c3a"/>
<circle cx="182.72" cy="297.72" r="1.15" fill="#3a8c3a"/>
<circle cx="153.76" cy="298.11" r="1.15" fill="#3a8c3a"/>
<circle cx="167.45" cy="298.62" r="1.15" fill="#3a8c3a"/>
<circle cx="170.25" cy="299.13" r="1.15" fill="#3a8c3a"/>
<circle cx="164.79" cy="299.64" r="1.15" fill="#3a8c3a"/>
<circle cx="172.97" cy="299.99" r="1.15" fill="#3a8c3a"/>
<circle cx="161.99" cy="300.18" r="1.15" fill="#3a8c3a"/>
<circle cx="175.79" cy="300.37" r="1.15" fill="#3a8c3a"/>
<circle cx="159.16" cy="300.55" r="1.15" fill="#3a8c3a"/>
<circle cx="178.62" cy="300.74" r="1.15" fill="#3a8c3a"/>
<circle cx="156.34" cy="300.92" r="1.15" fill="#3a8c3a"/>
<circle cx="181.44" cy="301.11" r="1.15" fill="#3a8c3a"/>
<circle cx="153.51" cy="301.30" r="1.15" fill="#3a8c3a"/>
<circle cx="168.20" cy="301.48" r="1.15" fill="#3a8c3a"/>
<circle cx="184.24" cy="301.67" r="1.15" fill="#3a8c3a"/>
<circle cx="150.72" cy="301.86" r="1.15" fill="#3a8c3a"/>
<circle cx="170.98" cy="302.10" r="1.15" fill="#3a8c3a"/>
<circle cx="164.06" cy="302.40" r="1.15" fill="#3a8c3a"/>
<circle cx="173.86" cy="302.70" r="1.15" fill="#3a8c3a"/>
<circle cx="161.28" cy="303.00" r="1.15" fill="#3a8c3a"/>
<circle cx="176.65" cy="303.30" r="1.15" fill="#3a8c3a"/>
<circle cx="158.49" cy="303.60" r="1.15" fill="#3a8c3a"/>
<circle cx="166.61" cy="303.85" r="1.15" fill="#3a8c3a"/>
<circle cx="179.39" cy="304.05" r="1.15" fill="#3a8c3a"/>
<circle cx="155.72" cy="304.25" r="1.15" fill="#3a8c3a"/>
<circle cx="182.22" cy="304.45" r="1.15" fill="#3a8c3a"/>
<circle cx="169.35" cy="304.65" r="1.15" fill="#3a8c3a"/>
<circle cx="152.93" cy="304.85" r="1.15" fill="#3a8c3a"/>
<circle cx="172.17" cy="305.05" r="1.15" fill="#3a8c3a"/>
<circle cx="164.13" cy="305.25" r="1.15" fill="#3a8c3a"/>
<circle cx="184.89" cy="305.45" r="1.15" fill="#3a8c3a"/>
<circle cx="174.94" cy="305.73" r="1.15" fill="#3a8c3a"/>
<circle cx="161.40" cy="306.07" r="1.15" fill="#3a8c3a"/>
<circle cx="177.70" cy="306.43" r="1.15" fill="#3a8c3a"/>
<circle cx="167.45" cy="306.78" r="1.15" fill="#3a8c3a"/>
<circle cx="158.75" cy="307.12" r="1.15" fill="#3a8c3a"/>
<circle cx="170.23" cy="307.39" r="1.15" fill="#3a8c3a"/>
<circle cx="180.31" cy="307.58" r="1.15" fill="#3a8c3a"/>
<circle cx="155.97" cy="307.77" r="1.15" fill="#3a8c3a"/>
<circle cx="173.02" cy="307.95" r="1.15" fill="#3a8c3a"/>
<circle cx="164.94" cy="308.14" r="1.15" fill="#3a8c3a"/>
<circle cx="183.06" cy="308.33" r="1.15" fill="#3a8c3a"/>
<circle cx="153.22" cy="308.51" r="1.15" fill="#3a8c3a"/>
<circle cx="175.77" cy="308.70" r="1.15" fill="#3a8c3a"/>
<circle cx="162.19" cy="308.88" r="1.15" fill="#3a8c3a"/>
<circle cx="185.81" cy="309.07" r="1.15" fill="#3a8c3a"/>
<circle cx="150.50" cy="309.26" r="1.15" fill="#3a8c3a"/>
<circle cx="168.20" cy="309.80" r="1.15" fill="#3a8c3a"/>
<circle cx="170.90" cy="310.70" r="1.15" fill="#3a8c3a"/>
<circle cx="165.99" cy="311.60" r="1.15" fill="#3a8c3a"/>
<circle cx="163.29" cy="312.50" r="1.15" fill="#3a8c3a"/>
<circle cx="168.20" cy="313.59" r="1.15" fill="#3a8c3a"/>
<circle cx="165.66" cy="314.88" r="1.15" fill="#3a8c3a"/>
<circle cx="169.42" cy="316.17" r="1.15" fill="#3a8c3a"/>
<circle cx="166.88" cy="317.46" r="1.15" fill="#3a8c3a"/>
<line x1="189.5" y1="293.3" x2="189.5" y2="301.2" stroke="#3a8c3a" stroke-width="1.5" stroke-opacity="0.7"/>
<line x1="189.5" y1="302.8" x2="189.5" y2="310.9" stroke="#3a8c3a" stroke-width="1.5" stroke-opacity="0.7"/>
<circle cx="211.55" cy="276.30" r="1.15" fill="#b83a3c"/>
<circle cx="211.55" cy="279.64" r="1.15" fill="#b83a3c"/>
<circle cx="208.78" cy="280.31" r="1.15" fill="#b83a3c"/>
<circle cx="214.06" cy="280.99" r="1.15" fill="#b83a3c"/>
<circle cx="206.27" cy="281.66" r="1.15" fill="#b83a3c"/>
<circle cx="211.55" cy="283.30" r="1.15" fill="#b83a3c"/>
<circle cx="209.41" cy="285.19" r="1.15" fill="#b83a3c"/>
<circle cx="211.96" cy="286.46" r="1.15" fill="#b83a3c"/>
<circle cx="209.87" cy="288.40" r="1.15" fill="#b83a3c"/>
<circle cx="212.39" cy="289.74" r="1.15" fill="#b83a3c"/>
<circle cx="215.15" cy="290.42" r="1.15" fill="#b83a3c"/>
<circle cx="208.99" cy="291.11" r="1.15" fill="#b83a3c"/>
<circle cx="206.23" cy="291.83" r="1.15" fill="#b83a3c"/>
<circle cx="211.55" cy="292.60" r="1.15" fill="#b83a3c"/>
<circle cx="214.29" cy="293.37" r="1.15" fill="#b83a3c"/>
<circle cx="209.16" cy="294.16" r="1.15" fill="#b83a3c"/>
<circle cx="216.65" cy="294.98" r="1.15" fill="#b83a3c"/>
<circle cx="211.55" cy="295.79" r="1.15" fill="#b83a3c"/>
<circle cx="207.29" cy="296.30" r="1.15" fill="#b83a3c"/>
<circle cx="204.44" cy="296.51" r="1.15" fill="#b83a3c"/>
<circle cx="214.25" cy="296.71" r="1.15" fill="#b83a3c"/>
<circle cx="218.73" cy="296.92" r="1.15" fill="#b83a3c"/>
<circle cx="201.66" cy="297.12" r="1.15" fill="#b83a3c"/>
<circle cx="221.55" cy="297.33" r="1.15" fill="#b83a3c"/>
<circle cx="198.84" cy="297.53" r="1.15" fill="#b83a3c"/>
<circle cx="224.37" cy="297.74" r="1.15" fill="#b83a3c"/>
<circle cx="209.68" cy="297.94" r="1.15" fill="#b83a3c"/>
<circle cx="196.06" cy="298.15" r="1.15" fill="#b83a3c"/>
<circle cx="227.14" cy="298.44" r="1.15" fill="#b83a3c"/>
<circle cx="216.17" cy="298.82" r="1.15" fill="#b83a3c"/>
<circle cx="212.24" cy="299.20" r="1.15" fill="#b83a3c"/>
<circle cx="207.35" cy="299.58" r="1.15" fill="#b83a3c"/>
<circle cx="204.52" cy="299.96" r="1.15" fill="#b83a3c"/>
<circle cx="218.57" cy="300.35" r="1.15" fill="#b83a3c"/>
<circle cx="201.79" cy="300.76" r="1.15" fill="#b83a3c"/>
<circle cx="210.18" cy="301.17" r="1.15" fill="#b83a3c"/>
<circle cx="213.80" cy="301.58" r="1.15" fill="#b83a3c"/>
<circle cx="220.90" cy="302.00" r="1.15" fill="#b83a3c"/>
<circle cx="207.65" cy="302.49" r="1.15" fill="#b83a3c"/>
<circle cx="216.24" cy="303.06" r="1.15" fill="#b83a3c"/>
<circle cx="211.62" cy="303.64" r="1.15" fill="#b83a3c"/>
<circle cx="205.38" cy="304.21" r="1.15" fill="#b83a3c"/>
<circle cx="218.53" cy="304.75" r="1.15" fill="#b83a3c"/>
<circle cx="209.28" cy="305.26" r="1.15" fill="#b83a3c"/>
<circle cx="213.50" cy="305.77" r="1.15" fill="#b83a3c"/>
<circle cx="203.43" cy="306.29" r="1.15" fill="#b83a3c"/>
<circle cx="216.16" cy="306.80" r="1.15" fill="#b83a3c"/>
<circle cx="207.23" cy="307.24" r="1.15" fill="#b83a3c"/>
<circle cx="211.33" cy="307.62" r="1.15" fill="#b83a3c"/>
<circle cx="218.74" cy="308.01" r="1.15" fill="#b83a3c"/>
<circle cx="221.57" cy="308.39" r="1.15" fill="#b83a3c"/>
<circle cx="213.94" cy="308.78" r="1.15" fill="#b83a3c"/>
<circle cx="205.12" cy="309.16" r="1.15" fill="#b83a3c"/>
<circle cx="209.45" cy="309.76" r="1.15" fill="#b83a3c"/>
<circle cx="216.15" cy="310.57" r="1.15" fill="#b83a3c"/>
<circle cx="211.78" cy="311.39" r="1.15" fill="#b83a3c"/>
<line x1="230.1" y1="290.4" x2="230.1" y2="298.0" stroke="#b83a3c" stroke-width="1.5" stroke-opacity="0.7"/>
<line x1="230.1" y1="299.6" x2="230.1" y2="307.3" stroke="#b83a3c" stroke-width="1.5" stroke-opacity="0.7"/>
<circle cx="254.90" cy="256.10" r="1.15" fill="#9175b3"/>
<circle cx="254.90" cy="262.30" r="1.15" fill="#9175b3"/>
<circle cx="254.90" cy="275.10" r="1.15" fill="#9175b3"/>
<circle cx="252.31" cy="276.30" r="1.15" fill="#9175b3"/>
<circle cx="254.90" cy="278.40" r="1.15" fill="#9175b3"/>
<circle cx="252.37" cy="279.70" r="1.15" fill="#9175b3"/>
<circle cx="257.18" cy="280.12" r="1.15" fill="#9175b3"/>
<circle cx="260.00" cy="280.52" r="1.15" fill="#9175b3"/>
<circle cx="249.80" cy="280.94" r="1.15" fill="#9175b3"/>
<circle cx="262.73" cy="281.35" r="1.15" fill="#9175b3"/>
<circle cx="254.90" cy="282.09" r="1.15" fill="#9175b3"/>
<circle cx="252.26" cy="283.16" r="1.15" fill="#9175b3"/>
<circle cx="254.90" cy="285.92" r="1.15" fill="#9175b3"/>
<circle cx="252.12" cy="286.55" r="1.15" fill="#9175b3"/>
<circle cx="257.45" cy="287.18" r="1.15" fill="#9175b3"/>
<circle cx="260.26" cy="287.65" r="1.15" fill="#9175b3"/>
<circle cx="249.64" cy="287.95" r="1.15" fill="#9175b3"/>
<circle cx="246.80" cy="288.25" r="1.15" fill="#9175b3"/>
<circle cx="262.97" cy="288.55" r="1.15" fill="#9175b3"/>
<circle cx="254.90" cy="288.85" r="1.15" fill="#9175b3"/>
<circle cx="252.13" cy="289.50" r="1.15" fill="#9175b3"/>
<circle cx="257.22" cy="290.50" r="1.15" fill="#9175b3"/>
<circle cx="249.88" cy="291.25" r="1.15" fill="#9175b3"/>
<circle cx="259.87" cy="291.55" r="1.15" fill="#9175b3"/>
<circle cx="254.71" cy="291.85" r="1.15" fill="#9175b3"/>
<circle cx="247.17" cy="292.15" r="1.15" fill="#9175b3"/>
<circle cx="262.58" cy="292.45" r="1.15" fill="#9175b3"/>
<circle cx="265.41" cy="292.75" r="1.15" fill="#9175b3"/>
<circle cx="252.13" cy="293.05" r="1.15" fill="#9175b3"/>
<circle cx="257.13" cy="293.37" r="1.15" fill="#9175b3"/>
<circle cx="244.78" cy="293.70" r="1.15" fill="#9175b3"/>
<circle cx="241.95" cy="294.03" r="1.15" fill="#9175b3"/>
<circle cx="249.60" cy="294.36" r="1.15" fill="#9175b3"/>
<circle cx="259.65" cy="294.69" r="1.15" fill="#9175b3"/>
<circle cx="254.74" cy="294.93" r="1.15" fill="#9175b3"/>
<circle cx="263.67" cy="295.08" r="1.15" fill="#9175b3"/>
<circle cx="266.80" cy="295.24" r="1.15" fill="#9175b3"/>
<circle cx="269.65" cy="295.39" r="1.15" fill="#9175b3"/>
<circle cx="247.01" cy="295.55" r="1.15" fill="#9175b3"/>
<circle cx="239.64" cy="295.70" r="1.15" fill="#9175b3"/>
<circle cx="272.46" cy="295.86" r="1.15" fill="#9175b3"/>
<circle cx="252.11" cy="296.01" r="1.15" fill="#9175b3"/>
<circle cx="237.20" cy="296.17" r="1.15" fill="#9175b3"/>
<circle cx="257.23" cy="296.32" r="1.15" fill="#9175b3"/>
<circle cx="244.35" cy="296.57" r="1.15" fill="#9175b3"/>
<circle cx="261.45" cy="296.90" r="1.15" fill="#9175b3"/>
<circle cx="249.53" cy="297.23" r="1.15" fill="#9175b3"/>
<circle cx="265.07" cy="297.57" r="1.15" fill="#9175b3"/>
<circle cx="254.86" cy="297.90" r="1.15" fill="#9175b3"/>
<circle cx="242.03" cy="298.23" r="1.15" fill="#9175b3"/>
<circle cx="259.06" cy="298.51" r="1.15" fill="#9175b3"/>
<circle cx="247.10" cy="298.72" r="1.15" fill="#9175b3"/>
<circle cx="252.20" cy="298.94" r="1.15" fill="#9175b3"/>
<circle cx="267.43" cy="299.15" r="1.15" fill="#9175b3"/>
<circle cx="270.28" cy="299.37" r="1.15" fill="#9175b3"/>
<circle cx="262.41" cy="299.58" r="1.15" fill="#9175b3"/>
<circle cx="244.46" cy="299.80" r="1.15" fill="#9175b3"/>
<circle cx="239.81" cy="300.01" r="1.15" fill="#9175b3"/>
<circle cx="256.50" cy="300.23" r="1.15" fill="#9175b3"/>
<circle cx="249.78" cy="300.44" r="1.15" fill="#9175b3"/>
<circle cx="265.02" cy="300.73" r="1.15" fill="#9175b3"/>
<circle cx="272.55" cy="301.09" r="1.15" fill="#9175b3"/>
<circle cx="253.92" cy="301.45" r="1.15" fill="#9175b3"/>
<circle cx="258.87" cy="301.80" r="1.15" fill="#9175b3"/>
<circle cx="247.51" cy="302.16" r="1.15" fill="#9175b3"/>
<circle cx="261.63" cy="302.52" r="1.15" fill="#9175b3"/>
<circle cx="251.49" cy="302.93" r="1.15" fill="#9175b3"/>
<circle cx="256.01" cy="303.39" r="1.15" fill="#9175b3"/>
<circle cx="264.15" cy="303.85" r="1.15" fill="#9175b3"/>
<circle cx="245.64" cy="304.31" r="1.15" fill="#9175b3"/>
<circle cx="258.50" cy="304.77" r="1.15" fill="#9175b3"/>
<circle cx="253.97" cy="305.38" r="1.15" fill="#9175b3"/>
<circle cx="251.23" cy="306.15" r="1.15" fill="#9175b3"/>
<circle cx="256.37" cy="306.92" r="1.15" fill="#9175b3"/>
<line x1="276.7" y1="283.1" x2="276.7" y2="292.3" stroke="#9175b3" stroke-width="1.5" stroke-opacity="0.7"/>
<line x1="276.7" y1="293.90000000000003" x2="276.7" y2="302.7" stroke="#9175b3" stroke-width="1.5" stroke-opacity="0.7"/>
<circle cx="298.25" cy="251.90" r="1.15" fill="#6e4a42"/>
<circle cx="298.25" cy="260.20" r="1.15" fill="#6e4a42"/>
<circle cx="298.25" cy="274.04" r="1.15" fill="#6e4a42"/>
<circle cx="295.54" cy="274.93" r="1.15" fill="#6e4a42"/>
<circle cx="300.49" cy="275.81" r="1.15" fill="#6e4a42"/>
<circle cx="303.20" cy="276.68" r="1.15" fill="#6e4a42"/>
<circle cx="298.23" cy="277.55" r="1.15" fill="#6e4a42"/>
<circle cx="295.52" cy="278.42" r="1.15" fill="#6e4a42"/>
<circle cx="300.47" cy="279.31" r="1.15" fill="#6e4a42"/>
<circle cx="303.17" cy="280.23" r="1.15" fill="#6e4a42"/>
<circle cx="298.25" cy="281.14" r="1.15" fill="#6e4a42"/>
<circle cx="296.06" cy="282.97" r="1.15" fill="#6e4a42"/>
<circle cx="298.97" cy="283.90" r="1.15" fill="#6e4a42"/>
<circle cx="301.66" cy="284.83" r="1.15" fill="#6e4a42"/>
<circle cx="297.11" cy="286.06" r="1.15" fill="#6e4a42"/>
<circle cx="299.63" cy="287.39" r="1.15" fill="#6e4a42"/>
<circle cx="295.57" cy="288.46" r="1.15" fill="#6e4a42"/>
<circle cx="301.77" cy="289.27" r="1.15" fill="#6e4a42"/>
<circle cx="298.25" cy="290.09" r="1.15" fill="#6e4a42"/>
<circle cx="293.98" cy="290.82" r="1.15" fill="#6e4a42"/>
<circle cx="303.58" cy="291.47" r="1.15" fill="#6e4a42"/>
<circle cx="300.25" cy="292.12" r="1.15" fill="#6e4a42"/>
<circle cx="297.29" cy="292.77" r="1.15" fill="#6e4a42"/>
<circle cx="294.62" cy="293.77" r="1.15" fill="#6e4a42"/>
<circle cx="302.30" cy="294.10" r="1.15" fill="#6e4a42"/>
<circle cx="291.85" cy="294.43" r="1.15" fill="#6e4a42"/>
<circle cx="305.08" cy="294.76" r="1.15" fill="#6e4a42"/>
<circle cx="298.95" cy="295.09" r="1.15" fill="#6e4a42"/>
<circle cx="289.17" cy="295.42" r="1.15" fill="#6e4a42"/>
<circle cx="307.75" cy="295.75" r="1.15" fill="#6e4a42"/>
<circle cx="296.28" cy="296.08" r="1.15" fill="#6e4a42"/>
<circle cx="286.61" cy="296.66" r="1.15" fill="#6e4a42"/>
<circle cx="300.51" cy="297.48" r="1.15" fill="#6e4a42"/>
<circle cx="294.48" cy="298.29" r="1.15" fill="#6e4a42"/>
<circle cx="298.18" cy="299.11" r="1.15" fill="#6e4a42"/>
<circle cx="301.97" cy="299.92" r="1.15" fill="#6e4a42"/>
<circle cx="293.02" cy="300.74" r="1.15" fill="#6e4a42"/>
<circle cx="296.42" cy="301.35" r="1.15" fill="#6e4a42"/>
<circle cx="299.24" cy="301.76" r="1.15" fill="#6e4a42"/>
<circle cx="303.72" cy="302.17" r="1.15" fill="#6e4a42"/>
<circle cx="290.84" cy="302.58" r="1.15" fill="#6e4a42"/>
<circle cx="306.45" cy="302.99" r="1.15" fill="#6e4a42"/>
<circle cx="294.43" cy="303.40" r="1.15" fill="#6e4a42"/>
<circle cx="297.52" cy="304.03" r="1.15" fill="#6e4a42"/>
<circle cx="300.24" cy="304.90" r="1.15" fill="#6e4a42"/>
<circle cx="302.95" cy="305.77" r="1.15" fill="#6e4a42"/>
<circle cx="298.25" cy="307.03" r="1.15" fill="#6e4a42"/>
<circle cx="295.48" cy="307.69" r="1.15" fill="#6e4a42"/>
<circle cx="300.77" cy="308.36" r="1.15" fill="#6e4a42"/>
<circle cx="292.95" cy="309.02" r="1.15" fill="#6e4a42"/>
<circle cx="297.54" cy="309.79" r="1.15" fill="#6e4a42"/>
<circle cx="302.43" cy="310.68" r="1.15" fill="#6e4a42"/>
<circle cx="295.30" cy="311.56" r="1.15" fill="#6e4a42"/>
<circle cx="298.25" cy="313.20" r="1.15" fill="#6e4a42"/>
<circle cx="295.77" cy="314.60" r="1.15" fill="#6e4a42"/>
<circle cx="298.25" cy="318.80" r="1.15" fill="#6e4a42"/>
<line x1="312.5" y1="281.1" x2="312.5" y2="293.7" stroke="#6e4a42" stroke-width="1.5" stroke-opacity="0.7"/>
<line x1="312.5" y1="295.3" x2="312.5" y2="308.6" stroke="#6e4a42" stroke-width="1.5" stroke-opacity="0.7"/>
<circle cx="341.60" cy="277.57" r="1.15" fill="#d27fb8"/>
<circle cx="338.80" cy="278.10" r="1.15" fill="#d27fb8"/>
<circle cx="344.24" cy="278.63" r="1.15" fill="#d27fb8"/>
<circle cx="341.60" cy="282.40" r="1.15" fill="#d27fb8"/>
<circle cx="341.60" cy="286.80" r="1.15" fill="#d27fb8"/>
<circle cx="338.78" cy="287.20" r="1.15" fill="#d27fb8"/>
<circle cx="344.34" cy="287.60" r="1.15" fill="#d27fb8"/>
<circle cx="336.04" cy="288.00" r="1.15" fill="#d27fb8"/>
<circle cx="347.02" cy="288.57" r="1.15" fill="#d27fb8"/>
<circle cx="333.41" cy="289.10" r="1.15" fill="#d27fb8"/>
<circle cx="341.29" cy="289.63" r="1.15" fill="#d27fb8"/>
<circle cx="343.98" cy="290.59" r="1.15" fill="#d27fb8"/>
<circle cx="338.68" cy="290.77" r="1.15" fill="#d27fb8"/>
<circle cx="335.83" cy="290.94" r="1.15" fill="#d27fb8"/>
<circle cx="348.28" cy="291.12" r="1.15" fill="#d27fb8"/>
<circle cx="351.12" cy="291.30" r="1.15" fill="#d27fb8"/>
<circle cx="331.84" cy="291.48" r="1.15" fill="#d27fb8"/>
<circle cx="353.95" cy="291.66" r="1.15" fill="#d27fb8"/>
<circle cx="329.01" cy="291.83" r="1.15" fill="#d27fb8"/>
<circle cx="356.78" cy="292.01" r="1.15" fill="#d27fb8"/>
<circle cx="326.21" cy="292.36" r="1.15" fill="#d27fb8"/>
<circle cx="341.60" cy="292.68" r="1.15" fill="#d27fb8"/>
<circle cx="345.50" cy="293.00" r="1.15" fill="#d27fb8"/>
<circle cx="337.41" cy="293.32" r="1.15" fill="#d27fb8"/>
<circle cx="334.58" cy="293.64" r="1.15" fill="#d27fb8"/>
<circle cx="348.03" cy="294.30" r="1.15" fill="#d27fb8"/>
<circle cx="350.85" cy="294.70" r="1.15" fill="#d27fb8"/>
<circle cx="340.09" cy="295.10" r="1.15" fill="#d27fb8"/>
<circle cx="342.92" cy="295.50" r="1.15" fill="#d27fb8"/>
<circle cx="345.60" cy="296.47" r="1.15" fill="#d27fb8"/>
<circle cx="337.97" cy="297.00" r="1.15" fill="#d27fb8"/>
<circle cx="335.17" cy="297.53" r="1.15" fill="#d27fb8"/>
<circle cx="341.60" cy="299.08" r="1.15" fill="#d27fb8"/>
<circle cx="344.45" cy="299.24" r="1.15" fill="#d27fb8"/>
<circle cx="347.29" cy="299.40" r="1.15" fill="#d27fb8"/>
<circle cx="333.17" cy="299.56" r="1.15" fill="#d27fb8"/>
<circle cx="338.82" cy="299.72" r="1.15" fill="#d27fb8"/>
<circle cx="350.10" cy="299.88" r="1.15" fill="#d27fb8"/>
<circle cx="330.36" cy="300.04" r="1.15" fill="#d27fb8"/>
<circle cx="352.93" cy="300.20" r="1.15" fill="#d27fb8"/>
<circle cx="336.05" cy="300.36" r="1.15" fill="#d27fb8"/>
<circle cx="327.55" cy="300.52" r="1.15" fill="#d27fb8"/>
<circle cx="355.71" cy="300.83" r="1.15" fill="#d27fb8"/>
<circle cx="324.76" cy="301.10" r="1.15" fill="#d27fb8"/>
<circle cx="358.51" cy="301.37" r="1.15" fill="#d27fb8"/>
<circle cx="342.87" cy="301.63" r="1.15" fill="#d27fb8"/>
<circle cx="345.70" cy="301.90" r="1.15" fill="#d27fb8"/>
<circle cx="323.90" cy="302.17" r="1.15" fill="#d27fb8"/>
<circle cx="340.15" cy="302.50" r="1.15" fill="#d27fb8"/>
<circle cx="348.37" cy="302.90" r="1.15" fill="#d27fb8"/>
<circle cx="337.42" cy="303.30" r="1.15" fill="#d27fb8"/>
<circle cx="334.59" cy="303.70" r="1.15" fill="#d27fb8"/>
<circle cx="341.92" cy="304.73" r="1.15" fill="#d27fb8"/>
<circle cx="344.76" cy="305.00" r="1.15" fill="#d27fb8"/>
<circle cx="349.96" cy="305.27" r="1.15" fill="#d27fb8"/>
<circle cx="339.19" cy="305.53" r="1.15" fill="#d27fb8"/>
<circle cx="332.67" cy="305.80" r="1.15" fill="#d27fb8"/>
<circle cx="336.39" cy="306.07" r="1.15" fill="#d27fb8"/>
<circle cx="347.23" cy="306.41" r="1.15" fill="#d27fb8"/>
<circle cx="352.46" cy="306.64" r="1.15" fill="#d27fb8"/>
<circle cx="330.03" cy="306.87" r="1.15" fill="#d27fb8"/>
<circle cx="355.27" cy="307.10" r="1.15" fill="#d27fb8"/>
<circle cx="343.10" cy="307.33" r="1.15" fill="#d27fb8"/>
<circle cx="327.26" cy="307.56" r="1.15" fill="#d27fb8"/>
<circle cx="358.04" cy="307.79" r="1.15" fill="#d27fb8"/>
<circle cx="340.64" cy="308.77" r="1.15" fill="#d27fb8"/>
<circle cx="345.16" cy="309.30" r="1.15" fill="#d27fb8"/>
<circle cx="338.00" cy="309.83" r="1.15" fill="#d27fb8"/>
<circle cx="341.60" cy="318.50" r="1.15" fill="#d27fb8"/>
<line x1="362.9" y1="289.1" x2="362.9" y2="297.2" stroke="#d27fb8" stroke-width="1.5" stroke-opacity="0.7"/>
<line x1="362.9" y1="298.8" x2="362.9" y2="307.1" stroke="#d27fb8" stroke-width="1.5" stroke-opacity="0.7"/>
<circle cx="384.95" cy="271.88" r="1.15" fill="#7a7a7a"/>
<circle cx="382.26" cy="272.83" r="1.15" fill="#7a7a7a"/>
<circle cx="386.85" cy="274.00" r="1.15" fill="#7a7a7a"/>
<circle cx="384.54" cy="275.68" r="1.15" fill="#7a7a7a"/>
<circle cx="387.23" cy="276.82" r="1.15" fill="#7a7a7a"/>
<circle cx="383.22" cy="278.20" r="1.15" fill="#7a7a7a"/>
<circle cx="389.28" cy="278.80" r="1.15" fill="#7a7a7a"/>
<circle cx="385.81" cy="279.40" r="1.15" fill="#7a7a7a"/>
<circle cx="381.01" cy="280.00" r="1.15" fill="#7a7a7a"/>
<circle cx="384.95" cy="282.38" r="1.15" fill="#7a7a7a"/>
<circle cx="382.34" cy="283.53" r="1.15" fill="#7a7a7a"/>
<circle cx="386.99" cy="284.37" r="1.15" fill="#7a7a7a"/>
<circle cx="389.79" cy="284.91" r="1.15" fill="#7a7a7a"/>
<circle cx="380.23" cy="285.44" r="1.15" fill="#7a7a7a"/>
<circle cx="384.64" cy="285.98" r="1.15" fill="#7a7a7a"/>
<circle cx="392.24" cy="286.35" r="1.15" fill="#7a7a7a"/>
<circle cx="377.61" cy="286.55" r="1.15" fill="#7a7a7a"/>
<circle cx="395.06" cy="286.75" r="1.15" fill="#7a7a7a"/>
<circle cx="374.79" cy="286.95" r="1.15" fill="#7a7a7a"/>
<circle cx="387.61" cy="287.15" r="1.15" fill="#7a7a7a"/>
<circle cx="397.85" cy="287.35" r="1.15" fill="#7a7a7a"/>
<circle cx="382.26" cy="287.55" r="1.15" fill="#7a7a7a"/>
<circle cx="372.05" cy="287.75" r="1.15" fill="#7a7a7a"/>
<circle cx="400.64" cy="287.95" r="1.15" fill="#7a7a7a"/>
<circle cx="369.23" cy="288.15" r="1.15" fill="#7a7a7a"/>
<circle cx="390.13" cy="288.48" r="1.15" fill="#7a7a7a"/>
<circle cx="384.95" cy="288.92" r="1.15" fill="#7a7a7a"/>
<circle cx="380.07" cy="289.38" r="1.15" fill="#7a7a7a"/>
<circle cx="392.64" cy="289.82" r="1.15" fill="#7a7a7a"/>
<circle cx="387.43" cy="290.33" r="1.15" fill="#7a7a7a"/>
<circle cx="382.90" cy="290.90" r="1.15" fill="#7a7a7a"/>
<circle cx="390.04" cy="291.47" r="1.15" fill="#7a7a7a"/>
<circle cx="379.16" cy="292.07" r="1.15" fill="#7a7a7a"/>
<circle cx="385.08" cy="292.73" r="1.15" fill="#7a7a7a"/>
<circle cx="387.86" cy="293.38" r="1.15" fill="#7a7a7a"/>
<circle cx="382.44" cy="293.80" r="1.15" fill="#7a7a7a"/>
<circle cx="391.36" cy="293.99" r="1.15" fill="#7a7a7a"/>
<circle cx="377.24" cy="294.19" r="1.15" fill="#7a7a7a"/>
<circle cx="394.19" cy="294.38" r="1.15" fill="#7a7a7a"/>
<circle cx="374.42" cy="294.58" r="1.15" fill="#7a7a7a"/>
<circle cx="397.01" cy="294.77" r="1.15" fill="#7a7a7a"/>
<circle cx="371.60" cy="294.97" r="1.15" fill="#7a7a7a"/>
<circle cx="379.94" cy="295.16" r="1.15" fill="#7a7a7a"/>
<circle cx="399.80" cy="295.36" r="1.15" fill="#7a7a7a"/>
<circle cx="384.73" cy="295.55" r="1.15" fill="#7a7a7a"/>
<circle cx="368.89" cy="295.86" r="1.15" fill="#7a7a7a"/>
<circle cx="387.48" cy="296.29" r="1.15" fill="#7a7a7a"/>
<circle cx="390.30" cy="296.71" r="1.15" fill="#7a7a7a"/>
<circle cx="382.36" cy="297.14" r="1.15" fill="#7a7a7a"/>
<circle cx="378.52" cy="297.63" r="1.15" fill="#7a7a7a"/>
<circle cx="392.73" cy="298.20" r="1.15" fill="#7a7a7a"/>
<circle cx="384.95" cy="298.77" r="1.15" fill="#7a7a7a"/>
<circle cx="387.77" cy="299.17" r="1.15" fill="#7a7a7a"/>
<circle cx="376.30" cy="299.41" r="1.15" fill="#7a7a7a"/>
<circle cx="381.03" cy="299.66" r="1.15" fill="#7a7a7a"/>
<circle cx="395.02" cy="299.90" r="1.15" fill="#7a7a7a"/>
<circle cx="390.45" cy="300.14" r="1.15" fill="#7a7a7a"/>
<circle cx="373.62" cy="300.39" r="1.15" fill="#7a7a7a"/>
<circle cx="397.77" cy="300.63" r="1.15" fill="#7a7a7a"/>
<circle cx="370.85" cy="301.07" r="1.15" fill="#7a7a7a"/>
<circle cx="384.95" cy="301.73" r="1.15" fill="#7a7a7a"/>
<circle cx="382.18" cy="302.38" r="1.15" fill="#7a7a7a"/>
<circle cx="387.46" cy="303.08" r="1.15" fill="#7a7a7a"/>
<circle cx="379.72" cy="303.83" r="1.15" fill="#7a7a7a"/>
<circle cx="384.95" cy="304.58" r="1.15" fill="#7a7a7a"/>
<circle cx="389.43" cy="305.14" r="1.15" fill="#7a7a7a"/>
<circle cx="382.26" cy="305.51" r="1.15" fill="#7a7a7a"/>
<circle cx="377.75" cy="305.89" r="1.15" fill="#7a7a7a"/>
<circle cx="392.05" cy="306.26" r="1.15" fill="#7a7a7a"/>
<circle cx="386.92" cy="306.64" r="1.15" fill="#7a7a7a"/>
<circle cx="375.14" cy="307.01" r="1.15" fill="#7a7a7a"/>
<circle cx="384.23" cy="307.58" r="1.15" fill="#7a7a7a"/>
<circle cx="381.48" cy="308.35" r="1.15" fill="#7a7a7a"/>
<circle cx="388.32" cy="309.12" r="1.15" fill="#7a7a7a"/>
<circle cx="384.95" cy="314.50" r="1.15" fill="#7a7a7a"/>
<line x1="404.7" y1="284.1" x2="404.7" y2="291.2" stroke="#7a7a7a" stroke-width="1.5" stroke-opacity="0.7"/>
<line x1="404.7" y1="292.8" x2="404.7" y2="302.7" stroke="#7a7a7a" stroke-width="1.5" stroke-opacity="0.7"/>
<circle cx="428.30" cy="262.51" r="1.15" fill="#a5a535"/>
<circle cx="425.83" cy="263.93" r="1.15" fill="#a5a535"/>
<circle cx="428.61" cy="265.34" r="1.15" fill="#a5a535"/>
<circle cx="431.17" cy="266.59" r="1.15" fill="#a5a535"/>
<circle cx="426.95" cy="267.66" r="1.15" fill="#a5a535"/>
<circle cx="424.31" cy="268.73" r="1.15" fill="#a5a535"/>
<circle cx="428.87" cy="269.78" r="1.15" fill="#a5a535"/>
<circle cx="431.56" cy="270.71" r="1.15" fill="#a5a535"/>
<circle cx="426.62" cy="271.52" r="1.15" fill="#a5a535"/>
<circle cx="423.89" cy="272.34" r="1.15" fill="#a5a535"/>
<circle cx="428.65" cy="273.52" r="1.15" fill="#a5a535"/>
<circle cx="426.26" cy="275.08" r="1.15" fill="#a5a535"/>
<circle cx="429.26" cy="276.31" r="1.15" fill="#a5a535"/>
<circle cx="431.96" cy="277.23" r="1.15" fill="#a5a535"/>
<circle cx="427.08" cy="278.14" r="1.15" fill="#a5a535"/>
<circle cx="424.35" cy="278.96" r="1.15" fill="#a5a535"/>
<circle cx="429.48" cy="279.68" r="1.15" fill="#a5a535"/>
<circle cx="432.24" cy="280.39" r="1.15" fill="#a5a535"/>
<circle cx="427.08" cy="281.21" r="1.15" fill="#a5a535"/>
<circle cx="424.38" cy="282.12" r="1.15" fill="#a5a535"/>
<circle cx="429.26" cy="283.04" r="1.15" fill="#a5a535"/>
<circle cx="431.96" cy="283.96" r="1.15" fill="#a5a535"/>
<circle cx="427.08" cy="284.88" r="1.15" fill="#a5a535"/>
<circle cx="424.38" cy="285.79" r="1.15" fill="#a5a535"/>
<circle cx="429.38" cy="286.56" r="1.15" fill="#a5a535"/>
<circle cx="432.16" cy="287.17" r="1.15" fill="#a5a535"/>
<circle cx="426.81" cy="287.78" r="1.15" fill="#a5a535"/>
<circle cx="423.22" cy="288.39" r="1.15" fill="#a5a535"/>
<circle cx="434.37" cy="288.97" r="1.15" fill="#a5a535"/>
<circle cx="429.08" cy="289.51" r="1.15" fill="#a5a535"/>
<circle cx="420.89" cy="290.04" r="1.15" fill="#a5a535"/>
<circle cx="426.27" cy="290.58" r="1.15" fill="#a5a535"/>
<circle cx="431.53" cy="290.95" r="1.15" fill="#a5a535"/>
<circle cx="436.20" cy="291.16" r="1.15" fill="#a5a535"/>
<circle cx="423.53" cy="291.36" r="1.15" fill="#a5a535"/>
<circle cx="418.49" cy="291.57" r="1.15" fill="#a5a535"/>
<circle cx="438.98" cy="291.78" r="1.15" fill="#a5a535"/>
<circle cx="415.67" cy="291.98" r="1.15" fill="#a5a535"/>
<circle cx="441.80" cy="292.19" r="1.15" fill="#a5a535"/>
<circle cx="428.48" cy="292.39" r="1.15" fill="#a5a535"/>
<circle cx="412.88" cy="292.60" r="1.15" fill="#a5a535"/>
<circle cx="433.66" cy="292.85" r="1.15" fill="#a5a535"/>
<circle cx="421.31" cy="293.15" r="1.15" fill="#a5a535"/>
<circle cx="425.83" cy="293.45" r="1.15" fill="#a5a535"/>
<circle cx="444.18" cy="293.75" r="1.15" fill="#a5a535"/>
<circle cx="430.79" cy="294.05" r="1.15" fill="#a5a535"/>
<circle cx="436.08" cy="294.35" r="1.15" fill="#a5a535"/>
<circle cx="418.91" cy="294.69" r="1.15" fill="#a5a535"/>
<circle cx="423.47" cy="295.06" r="1.15" fill="#a5a535"/>
<circle cx="428.30" cy="295.43" r="1.15" fill="#a5a535"/>
<circle cx="433.05" cy="295.80" r="1.15" fill="#a5a535"/>
<circle cx="438.28" cy="296.17" r="1.15" fill="#a5a535"/>
<circle cx="421.15" cy="296.71" r="1.15" fill="#a5a535"/>
<circle cx="430.33" cy="297.43" r="1.15" fill="#a5a535"/>
<circle cx="427.44" cy="298.14" r="1.15" fill="#a5a535"/>
<circle cx="424.63" cy="298.64" r="1.15" fill="#a5a535"/>
<circle cx="432.75" cy="298.93" r="1.15" fill="#a5a535"/>
<circle cx="435.58" cy="299.21" r="1.15" fill="#a5a535"/>
<circle cx="421.91" cy="299.50" r="1.15" fill="#a5a535"/>
<circle cx="419.08" cy="299.79" r="1.15" fill="#a5a535"/>
<circle cx="438.30" cy="300.07" r="1.15" fill="#a5a535"/>
<circle cx="429.23" cy="300.36" r="1.15" fill="#a5a535"/>
<circle cx="426.42" cy="300.86" r="1.15" fill="#a5a535"/>
<circle cx="433.81" cy="301.57" r="1.15" fill="#a5a535"/>
<circle cx="423.96" cy="302.29" r="1.15" fill="#a5a535"/>
<circle cx="430.63" cy="302.84" r="1.15" fill="#a5a535"/>
<circle cx="421.27" cy="303.22" r="1.15" fill="#a5a535"/>
<circle cx="427.88" cy="303.61" r="1.15" fill="#a5a535"/>
<circle cx="435.32" cy="303.99" r="1.15" fill="#a5a535"/>
<circle cx="418.66" cy="304.38" r="1.15" fill="#a5a535"/>
<circle cx="438.06" cy="304.76" r="1.15" fill="#a5a535"/>
<circle cx="425.81" cy="305.56" r="1.15" fill="#a5a535"/>
<circle cx="428.38" cy="306.79" r="1.15" fill="#a5a535"/>
<circle cx="426.47" cy="308.90" r="1.15" fill="#a5a535"/>
<line x1="448" y1="280.1" x2="448" y2="290.7" stroke="#a5a535" stroke-width="1.5" stroke-opacity="0.7"/>
<line x1="448" y1="292.3" x2="448" y2="302.2" stroke="#a5a535" stroke-width="1.5" stroke-opacity="0.7"/>
<text x="40.4" y="378.4" font-size="10" text-anchor="middle" font-weight="normal" font-style="normal" fill="#111" transform="rotate(-90 40.4 378.4)" textLength="81" lengthAdjust="spacingAndGlyphs" stroke="#111" stroke-width="0.3">MEAN DIFFERENCE</text>
<line x1="59.3" y1="345.3" x2="59.3" y2="419" stroke="#6a6a6a" stroke-width="1.4"/>
<line x1="57.1" y1="418.5" x2="59.3" y2="418.5" stroke="#444" stroke-width="1.0"/>
<text x="55.9" y="420.5" font-size="5.9" text-anchor="end" font-weight="normal" font-style="normal" fill="#333" textLength="11.2" lengthAdjust="spacingAndGlyphs" stroke="#333" stroke-width="0.2">0.00</text>
<line x1="57.1" y1="405.35" x2="59.3" y2="405.35" stroke="#444" stroke-width="1.0"/>
<text x="55.9" y="407.35" font-size="5.9" text-anchor="end" font-weight="normal" font-style="normal" fill="#333" textLength="11.2" lengthAdjust="spacingAndGlyphs" stroke="#333" stroke-width="0.2">0.25</text>
<line x1="57.1" y1="392.2" x2="59.3" y2="392.2" stroke="#444" stroke-width="1.0"/>
<text x="55.9" y="394.2" font-size="5.9" text-anchor="end" font-weight="normal" font-style="normal" fill="#333" textLength="11.2" lengthAdjust="spacingAndGlyphs" stroke="#333" stroke-width="0.2">0.50</text>
<line x1="57.1" y1="379.05" x2="59.3" y2="379.05" stroke="#444" stroke-width="1.0"/>
<text x="55.9" y="381.05" font-size="5.9" text-anchor="end" font-weight="normal" font-style="normal" fill="#333" textLength="11.2" lengthAdjust="spacingAndGlyphs" stroke="#333" stroke-width="0.2">0.75</text>
<line x1="57.1" y1="365.9" x2="59.3" y2="365.9" stroke="#444" stroke-width="1.0"/>
<text x="55.9" y="367.9" font-size="5.9" text-anchor="end" font-weight="normal" font-style="normal" fill="#333" textLength="11.2" lengthAdjust="spacingAndGlyphs" stroke="#333" stroke-width="0.2">1.00</text>
<line x1="57.1" y1="352.75" x2="59.3" y2="352.75" stroke="#444" stroke-width="1.0"/>
<text x="55.9" y="354.75" font-size="5.9" text-anchor="end" font-weight="normal" font-style="normal" fill="#333" textLength="11.2" lengthAdjust="spacingAndGlyphs" stroke="#333" stroke-width="0.2">1.25</text>
<line x1="59.3" y1="418.4" x2="450" y2="418.4" stroke="#555" stroke-width="1.0"/>
<line x1="81.5" y1="420.1" x2="428.3" y2="420.1" stroke="#777" stroke-width="1.4"/>
<path d="M124.50,403.85 L124.50,403.85 L124.99,404.16 L125.58,404.48 L126.23,404.80 L126.91,405.12 L127.61,405.43 L128.33,405.75 L129.08,406.07 L129.84,406.38 L130.61,406.70 L131.40,407.02 L132.20,407.33 L133.01,407.65 L133.83,407.97 L134.66,408.28 L135.50,408.60 L134.66,408.92 L133.83,409.23 L133.01,409.55 L132.20,409.87 L131.40,410.18 L130.61,410.50 L129.84,410.82 L129.08,411.13 L128.33,411.45 L127.61,411.77 L126.91,412.08 L126.23,412.40 L125.58,412.72 L124.99,413.04 L124.50,413.35 L124.50,413.35 Z" fill="#f58f2c"/>
<line x1="124.80" y1="400.35" x2="124.80" y2="416.85" stroke="#f58f2c" stroke-width="1" stroke-opacity="0.35"/>
<line x1="124.5" y1="404.20000000000005" x2="124.5" y2="413.0" stroke="#111" stroke-width="1.4"/>
<circle cx="124.50" cy="408.60" r="2.0" fill="#000"/>
<path d="M168.10,377.87 L168.10,377.87 L168.59,378.26 L169.19,378.65 L169.84,379.03 L170.53,379.42 L171.24,379.81 L171.97,380.20 L172.72,380.59 L173.49,380.98 L174.27,381.37 L175.06,381.76 L175.87,382.14 L176.69,382.53 L177.52,382.92 L178.35,383.31 L179.20,383.70 L178.35,384.09 L177.52,384.48 L176.69,384.87 L175.87,385.26 L175.06,385.64 L174.27,386.03 L173.49,386.42 L172.72,386.81 L171.97,387.20 L171.24,387.59 L170.53,387.98 L169.84,388.37 L169.19,388.75 L168.59,389.14 L168.10,389.53 L168.10,389.53 Z" fill="#48ae48"/>
<line x1="168.40" y1="374.37" x2="168.40" y2="393.03" stroke="#48ae48" stroke-width="1" stroke-opacity="0.35"/>
<line x1="168.1" y1="378.3" x2="168.1" y2="389.09999999999997" stroke="#111" stroke-width="1.4"/>
<circle cx="168.10" cy="383.70" r="2.0" fill="#000"/>
<path d="M211.40,369.98 L211.40,369.98 L211.89,370.45 L212.49,370.92 L213.14,371.38 L213.83,371.85 L214.54,372.32 L215.27,372.79 L216.02,373.26 L216.79,373.72 L217.57,374.19 L218.36,374.66 L219.17,375.13 L219.99,375.60 L220.82,376.06 L221.65,376.53 L222.50,377.00 L221.65,377.47 L220.82,377.94 L219.99,378.40 L219.17,378.87 L218.36,379.34 L217.57,379.81 L216.79,380.28 L216.02,380.74 L215.27,381.21 L214.54,381.68 L213.83,382.15 L213.14,382.62 L212.49,383.08 L211.89,383.55 L211.40,384.02 L211.40,384.02 Z" fill="#e24848"/>
<line x1="211.70" y1="366.48" x2="211.70" y2="387.52" stroke="#e24848" stroke-width="1" stroke-opacity="0.35"/>
<line x1="211.4" y1="370.5" x2="211.4" y2="383.5" stroke="#111" stroke-width="1.4"/>
<circle cx="211.40" cy="377.00" r="2.0" fill="#000"/>
<path d="M254.90,357.94 L254.90,357.94 L255.38,358.35 L255.95,358.76 L256.58,359.18 L257.24,359.59 L257.92,360.00 L258.63,360.41 L259.35,360.82 L260.09,361.23 L260.85,361.64 L261.61,362.05 L262.39,362.46 L263.18,362.87 L263.98,363.28 L264.78,363.69 L265.60,364.10 L264.78,364.51 L263.98,364.92 L263.18,365.33 L262.39,365.74 L261.61,366.15 L260.85,366.56 L260.09,366.97 L259.35,367.38 L258.63,367.79 L257.92,368.20 L257.24,368.61 L256.58,369.02 L255.95,369.44 L255.38,369.85 L254.90,370.26 L254.90,370.26 Z" fill="#a47ed4"/>
<line x1="255.20" y1="354.44" x2="255.20" y2="373.76" stroke="#a47ed4" stroke-width="1" stroke-opacity="0.35"/>
<line x1="254.9" y1="358.40000000000003" x2="254.9" y2="369.8" stroke="#111" stroke-width="1.4"/>
<circle cx="254.90" cy="364.10" r="2.0" fill="#000"/>
<path d="M298.20,357.24 L298.20,357.24 L298.69,357.92 L299.29,358.61 L299.94,359.29 L300.63,359.98 L301.34,360.66 L302.07,361.34 L302.82,362.03 L303.59,362.71 L304.37,363.40 L305.16,364.08 L305.97,364.76 L306.79,365.45 L307.62,366.13 L308.45,366.82 L309.30,367.50 L308.45,368.18 L307.62,368.87 L306.79,369.55 L305.97,370.24 L305.16,370.92 L304.37,371.60 L303.59,372.29 L302.82,372.97 L302.07,373.66 L301.34,374.34 L300.63,375.02 L299.94,375.71 L299.29,376.39 L298.69,377.08 L298.20,377.76 L298.20,377.76 Z" fill="#9a6a5e"/>
<line x1="298.50" y1="353.74" x2="298.50" y2="381.26" stroke="#9a6a5e" stroke-width="1" stroke-opacity="0.35"/>
<line x1="298.2" y1="358.0" x2="298.2" y2="377.0" stroke="#111" stroke-width="1.4"/>
<circle cx="298.20" cy="367.50" r="2.0" fill="#000"/>
<path d="M341.90,369.84 L341.90,369.84 L342.38,370.25 L342.95,370.66 L343.58,371.08 L344.24,371.49 L344.92,371.90 L345.63,372.31 L346.35,372.72 L347.09,373.13 L347.85,373.54 L348.61,373.95 L349.39,374.36 L350.18,374.77 L350.98,375.18 L351.78,375.59 L352.60,376.00 L351.78,376.41 L350.98,376.82 L350.18,377.23 L349.39,377.64 L348.61,378.05 L347.85,378.46 L347.09,378.87 L346.35,379.28 L345.63,379.69 L344.92,380.10 L344.24,380.51 L343.58,380.92 L342.95,381.34 L342.38,381.75 L341.90,382.16 L341.90,382.16 Z" fill="#ef86cc"/>
<line x1="342.20" y1="366.34" x2="342.20" y2="385.66" stroke="#ef86cc" stroke-width="1" stroke-opacity="0.35"/>
<line x1="341.9" y1="370.3" x2="341.9" y2="381.7" stroke="#111" stroke-width="1.4"/>
<circle cx="341.90" cy="376.00" r="2.0" fill="#000"/>
<path d="M384.80,358.73 L384.80,358.73 L385.29,359.15 L385.89,359.58 L386.54,360.00 L387.23,360.43 L387.94,360.85 L388.67,361.28 L389.42,361.70 L390.19,362.13 L390.97,362.55 L391.76,362.98 L392.57,363.40 L393.39,363.83 L394.22,364.25 L395.05,364.68 L395.90,365.10 L395.05,365.52 L394.22,365.95 L393.39,366.37 L392.57,366.80 L391.76,367.22 L390.97,367.65 L390.19,368.07 L389.42,368.50 L388.67,368.92 L387.94,369.35 L387.23,369.77 L386.54,370.20 L385.89,370.62 L385.29,371.05 L384.80,371.47 L384.80,371.47 Z" fill="#8e8e8e"/>
<line x1="385.10" y1="355.23" x2="385.10" y2="374.97" stroke="#8e8e8e" stroke-width="1" stroke-opacity="0.35"/>
<line x1="384.8" y1="359.20000000000005" x2="384.8" y2="371.0" stroke="#111" stroke-width="1.4"/>
<circle cx="384.80" cy="365.10" r="2.0" fill="#000"/>
<path d="M428.30,352.45 L428.30,352.45 L428.78,352.94 L429.37,353.44 L430.01,353.94 L430.68,354.44 L431.38,354.93 L432.10,355.43 L432.84,355.93 L433.59,356.42 L434.36,356.92 L435.14,357.42 L435.93,357.91 L436.73,358.41 L437.55,358.91 L438.37,359.40 L439.20,359.90 L438.37,360.40 L437.55,360.89 L436.73,361.39 L435.93,361.89 L435.14,362.38 L434.36,362.88 L433.59,363.38 L432.84,363.87 L432.10,364.37 L431.38,364.87 L430.68,365.36 L430.01,365.86 L429.37,366.36 L428.78,366.86 L428.30,367.35 L428.30,367.35 Z" fill="#c8c83a"/>
<line x1="428.60" y1="348.95" x2="428.60" y2="370.85" stroke="#c8c83a" stroke-width="1" stroke-opacity="0.35"/>
<line x1="428.3" y1="353.0" x2="428.3" y2="366.79999999999995" stroke="#111" stroke-width="1.4"/>
<circle cx="428.30" cy="359.90" r="2.0" fill="#000"/>
<text x="86.00" y="432.00" font-size="8.93" text-anchor="end" font-style="italic" fill="#111" stroke="#111" stroke-width="0.22" transform="rotate(-76 86.00 432.00)">H<tspan font-size="6.3" dy="2.4" dx="0.2">2</tspan><tspan dy="-2.4" dx="0.2">O</tspan></text>
<text x="130.20" y="432.00" font-size="9.4" text-anchor="end" font-style="italic" fill="#111" stroke="#111" stroke-width="0.22" transform="rotate(-76 130.20 432.00)" textLength="54.67" lengthAdjust="spacing">IUM 11-0507</text>
<text x="174.20" y="431.80" font-size="9.4" text-anchor="end" font-style="italic" fill="#111" stroke="#111" stroke-width="0.22" transform="rotate(-76 174.20 431.80)" textLength="55.28" lengthAdjust="spacing">IUM 11-0508</text>
<text x="217.00" y="431.00" font-size="9.4" text-anchor="end" font-style="italic" fill="#111" stroke="#111" stroke-width="0.22" transform="rotate(-76 217.00 431.00)" textLength="52.12" lengthAdjust="spacing">NRRL 43601</text>
<text x="260.00" y="431.80" font-size="9.4" text-anchor="end" font-style="italic" fill="#111" stroke="#111" stroke-width="0.22" transform="rotate(-76 260.00 431.80)" textLength="51.68" lengthAdjust="spacing">NRRL 43604</text>
<text x="304.00" y="431.80" font-size="9.4" text-anchor="end" font-style="italic" fill="#111" stroke="#111" stroke-width="0.22" transform="rotate(-76 304.00 431.80)" textLength="51.68" lengthAdjust="spacing">NRRL 43658</text>
<text x="347.00" y="431.80" font-size="9.4" text-anchor="end" font-style="italic" fill="#111" stroke="#111" stroke-width="0.22" transform="rotate(-76 347.00 431.80)" textLength="51.74" lengthAdjust="spacing">NRRL 43682</text>
<text x="390.70" y="431.90" font-size="9.4" text-anchor="end" font-style="italic" fill="#111" stroke="#111" stroke-width="0.22" transform="rotate(-76 390.70 431.90)" textLength="52.33" lengthAdjust="spacing">IHEM 20180</text>
<text x="434.40" y="430.90" font-size="9.4" text-anchor="end" font-style="italic" fill="#111" stroke="#111" stroke-width="0.22" transform="rotate(-76 434.40 430.90)" textLength="53.42" lengthAdjust="spacing">IHEM 19881</text>
</svg>
</body></html>
